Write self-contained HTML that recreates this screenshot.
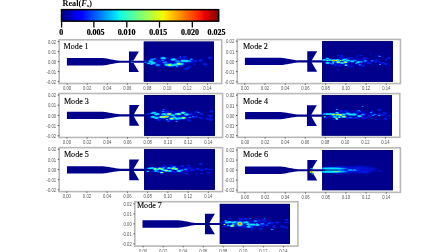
<!DOCTYPE html>
<html><head><meta charset="utf-8"><style>html,body{margin:0;padding:0;background:#fff;overflow:hidden}svg{display:block}</style></head>
<body>
<svg width="448" height="252" viewBox="0 0 448 252">
<defs><linearGradient id="jet" x1="0" x2="1" y1="0" y2="0"><stop offset="0" stop-color="rgb(0, 0, 128)"/><stop offset="0.11" stop-color="rgb(0, 0, 255)"/><stop offset="0.125" stop-color="rgb(0, 0, 255)"/><stop offset="0.34" stop-color="rgb(0, 219, 255)"/><stop offset="0.35" stop-color="rgb(0, 229, 247)"/><stop offset="0.375" stop-color="rgb(20, 255, 226)"/><stop offset="0.64" stop-color="rgb(238, 255, 8)"/><stop offset="0.65" stop-color="rgb(247, 245, 0)"/><stop offset="0.66" stop-color="rgb(255, 236, 0)"/><stop offset="0.89" stop-color="rgb(255, 19, 0)"/><stop offset="0.91" stop-color="rgb(232, 0, 0)"/><stop offset="1" stop-color="rgb(128, 0, 0)"/></linearGradient><filter id="bl" x="-50%" y="-50%" width="200%" height="200%"><feGaussianBlur stdDeviation="0.6"/></filter><radialGradient id="gh"><stop offset="0" stop-color="rgb(0, 10, 240)" stop-opacity="1"/><stop offset="0.5" stop-color="rgb(0, 10, 240)" stop-opacity="0.85"/><stop offset="1" stop-color="rgb(0, 10, 240)" stop-opacity="0"/></radialGradient><radialGradient id="gb"><stop offset="0" stop-color="rgb(0, 25, 235)" stop-opacity="1"/><stop offset="0.5" stop-color="rgb(0, 25, 235)" stop-opacity="0.85"/><stop offset="1" stop-color="rgb(0, 25, 235)" stop-opacity="0"/></radialGradient><radialGradient id="glb"><stop offset="0" stop-color="rgb(0, 150, 255)" stop-opacity="1"/><stop offset="0.5" stop-color="rgb(0, 150, 255)" stop-opacity="0.85"/><stop offset="1" stop-color="rgb(0, 150, 255)" stop-opacity="0"/></radialGradient><radialGradient id="gc"><stop offset="0" stop-color="rgb(0, 235, 255)" stop-opacity="1"/><stop offset="0.5" stop-color="rgb(0, 235, 255)" stop-opacity="0.85"/><stop offset="1" stop-color="rgb(0, 235, 255)" stop-opacity="0"/></radialGradient><radialGradient id="gg"><stop offset="0" stop-color="rgb(120, 255, 130)" stop-opacity="1"/><stop offset="0.5" stop-color="rgb(120, 255, 130)" stop-opacity="0.85"/><stop offset="1" stop-color="rgb(120, 255, 130)" stop-opacity="0"/></radialGradient><radialGradient id="gy"><stop offset="0" stop-color="rgb(230, 255, 10)" stop-opacity="1"/><stop offset="0.5" stop-color="rgb(230, 255, 10)" stop-opacity="0.85"/><stop offset="1" stop-color="rgb(230, 255, 10)" stop-opacity="0"/></radialGradient><radialGradient id="go"><stop offset="0" stop-color="rgb(255, 150, 0)" stop-opacity="1"/><stop offset="0.5" stop-color="rgb(255, 150, 0)" stop-opacity="0.85"/><stop offset="1" stop-color="rgb(255, 150, 0)" stop-opacity="0"/></radialGradient><radialGradient id="gr"><stop offset="0" stop-color="rgb(230, 20, 0)" stop-opacity="1"/><stop offset="0.5" stop-color="rgb(230, 20, 0)" stop-opacity="0.85"/><stop offset="1" stop-color="rgb(230, 20, 0)" stop-opacity="0"/></radialGradient></defs>
<rect width="448" height="252" fill="#fff"/>
<text x="62.5" y="5.85" font-family="'Liberation Serif', 'Times New Roman', serif" font-weight="bold" font-size="8.2" fill="#000">Real(<tspan font-style="italic">F</tspan><tspan font-size="5" dy="1.5">x</tspan><tspan dy="-1.5">)</tspan></text>
<rect x="61.5" y="9.65" width="157.2" height="11.499999999999998" fill="url(#jet)" stroke="#000" stroke-width="1.5"/>
<line x1="61.6" y1="21.15" x2="61.6" y2="27.6" stroke="#000" stroke-width="1.3"/>
<line x1="93.9" y1="21.15" x2="93.9" y2="27.6" stroke="#000" stroke-width="1.3"/>
<line x1="126.8" y1="21.15" x2="126.8" y2="27.6" stroke="#000" stroke-width="1.3"/>
<line x1="159.5" y1="21.15" x2="159.5" y2="27.6" stroke="#000" stroke-width="1.3"/>
<line x1="192.3" y1="21.15" x2="192.3" y2="27.6" stroke="#000" stroke-width="1.3"/>
<text transform="translate(61.3 34.5) scale(1.1 1)" text-anchor="middle" font-family="'Liberation Serif', 'Times New Roman', serif" font-weight="bold" font-size="7.25" fill="#000" stroke="#000" stroke-width="0.2">0</text>
<text transform="translate(95.6 34.5) scale(1.1 1)" text-anchor="middle" font-family="'Liberation Serif', 'Times New Roman', serif" font-weight="bold" font-size="7.25" fill="#000" stroke="#000" stroke-width="0.2">0.005</text>
<text transform="translate(126.6 34.5) scale(1.1 1)" text-anchor="middle" font-family="'Liberation Serif', 'Times New Roman', serif" font-weight="bold" font-size="7.25" fill="#000" stroke="#000" stroke-width="0.2">0.010</text>
<text transform="translate(158.2 34.5) scale(1.1 1)" text-anchor="middle" font-family="'Liberation Serif', 'Times New Roman', serif" font-weight="bold" font-size="7.25" fill="#000" stroke="#000" stroke-width="0.2">0.015</text>
<text transform="translate(190.0 34.5) scale(1.1 1)" text-anchor="middle" font-family="'Liberation Serif', 'Times New Roman', serif" font-weight="bold" font-size="7.25" fill="#000" stroke="#000" stroke-width="0.2">0.020</text>
<text transform="translate(216.5 34.5) scale(1.1 1)" text-anchor="middle" font-family="'Liberation Serif', 'Times New Roman', serif" font-weight="bold" font-size="7.25" fill="#000" stroke="#000" stroke-width="0.2">0.025</text>
<rect x="59.2" y="39.8" width="162.50" height="43.70" fill="#fff" stroke="#b8b8b8" stroke-width="1.6"/>
<text transform="translate(56.20 43.80) scale(0.92 1)" text-anchor="end" font-family="'Liberation Sans', Arial, sans-serif" font-size="4.6" fill="#555">0.02</text>
<line x1="57.80" y1="41.60" x2="59.20" y2="41.60" stroke="#444" stroke-width="0.9"/>
<text transform="translate(56.20 53.81) scale(0.92 1)" text-anchor="end" font-family="'Liberation Sans', Arial, sans-serif" font-size="4.6" fill="#555">0.01</text>
<line x1="57.80" y1="51.61" x2="59.20" y2="51.61" stroke="#444" stroke-width="0.9"/>
<text transform="translate(56.20 63.83) scale(0.92 1)" text-anchor="end" font-family="'Liberation Sans', Arial, sans-serif" font-size="4.6" fill="#555">0.00</text>
<line x1="57.80" y1="61.62" x2="59.20" y2="61.62" stroke="#444" stroke-width="0.9"/>
<text transform="translate(56.20 73.84) scale(0.92 1)" text-anchor="end" font-family="'Liberation Sans', Arial, sans-serif" font-size="4.6" fill="#555">-0.01</text>
<line x1="57.80" y1="71.64" x2="59.20" y2="71.64" stroke="#444" stroke-width="0.9"/>
<text transform="translate(56.20 83.85) scale(0.92 1)" text-anchor="end" font-family="'Liberation Sans', Arial, sans-serif" font-size="4.6" fill="#555">-0.02</text>
<line x1="57.80" y1="81.65" x2="59.20" y2="81.65" stroke="#444" stroke-width="0.9"/>
<text transform="translate(67.10 90.00) scale(0.92 1)" text-anchor="middle" font-family="'Liberation Sans', Arial, sans-serif" font-size="4.6" fill="#555">0.00</text>
<line x1="67.10" y1="83.50" x2="67.10" y2="84.70" stroke="#444" stroke-width="0.9"/>
<text transform="translate(87.15 90.00) scale(0.92 1)" text-anchor="middle" font-family="'Liberation Sans', Arial, sans-serif" font-size="4.6" fill="#555">0.02</text>
<line x1="87.15" y1="83.50" x2="87.15" y2="84.70" stroke="#444" stroke-width="0.9"/>
<text transform="translate(107.20 90.00) scale(0.92 1)" text-anchor="middle" font-family="'Liberation Sans', Arial, sans-serif" font-size="4.6" fill="#555">0.04</text>
<line x1="107.20" y1="83.50" x2="107.20" y2="84.70" stroke="#444" stroke-width="0.9"/>
<text transform="translate(127.25 90.00) scale(0.92 1)" text-anchor="middle" font-family="'Liberation Sans', Arial, sans-serif" font-size="4.6" fill="#555">0.06</text>
<line x1="127.25" y1="83.50" x2="127.25" y2="84.70" stroke="#444" stroke-width="0.9"/>
<text transform="translate(147.30 90.00) scale(0.92 1)" text-anchor="middle" font-family="'Liberation Sans', Arial, sans-serif" font-size="4.6" fill="#555">0.08</text>
<line x1="147.30" y1="83.50" x2="147.30" y2="84.70" stroke="#444" stroke-width="0.9"/>
<text transform="translate(167.35 90.00) scale(0.92 1)" text-anchor="middle" font-family="'Liberation Sans', Arial, sans-serif" font-size="4.6" fill="#555">0.10</text>
<line x1="167.35" y1="83.50" x2="167.35" y2="84.70" stroke="#444" stroke-width="0.9"/>
<text transform="translate(187.40 90.00) scale(0.92 1)" text-anchor="middle" font-family="'Liberation Sans', Arial, sans-serif" font-size="4.6" fill="#555">0.12</text>
<line x1="187.40" y1="83.50" x2="187.40" y2="84.70" stroke="#444" stroke-width="0.9"/>
<text transform="translate(207.45 90.00) scale(0.92 1)" text-anchor="middle" font-family="'Liberation Sans', Arial, sans-serif" font-size="4.6" fill="#555">0.14</text>
<line x1="207.45" y1="83.50" x2="207.45" y2="84.70" stroke="#444" stroke-width="0.9"/>
<rect x="143.8" y="41.6" width="70.20" height="40.05" fill="#00008c"/>
<rect x="144.20" y="42.00" width="69.40" height="39.25" fill="none" stroke="#000070" stroke-width="0.8"/>
<ellipse cx="172" cy="62.5" rx="28" ry="6.0" fill="url(#gh)" opacity="0.45"/>
<clipPath id="cp1"><rect x="143.8" y="41.6" width="70.20" height="40.05"/></clipPath>
<g clip-path="url(#cp1)"><ellipse cx="152.2" cy="59.5" rx="3.86" ry="2.02" fill="url(#gb)"/><ellipse cx="153" cy="62.9" rx="4.42" ry="2.30" fill="url(#gb)"/><ellipse cx="148.4" cy="62.5" rx="3.31" ry="1.75" fill="url(#gb)"/><ellipse cx="157.7" cy="65" rx="3.86" ry="2.02" fill="url(#gb)"/><ellipse cx="163.2" cy="58.2" rx="4.42" ry="2.30" fill="url(#gb)"/><ellipse cx="164.9" cy="62.5" rx="3.86" ry="2.02" fill="url(#gb)"/><ellipse cx="169.6" cy="65" rx="4.60" ry="2.48" fill="url(#gb)"/><ellipse cx="173.4" cy="59.5" rx="4.42" ry="2.30" fill="url(#gb)"/><ellipse cx="177.6" cy="61.6" rx="3.86" ry="2.02" fill="url(#gb)"/><ellipse cx="159" cy="61.2" rx="3.31" ry="1.75" fill="url(#gb)"/><ellipse cx="167" cy="64.8" rx="4.42" ry="2.30" fill="url(#gb)"/><ellipse cx="172" cy="65.2" rx="4.42" ry="2.30" fill="url(#gb)"/><ellipse cx="175.5" cy="64.8" rx="4.42" ry="2.30" fill="url(#gb)"/><ellipse cx="178.8" cy="63.8" rx="4.60" ry="2.48" fill="url(#gb)"/><ellipse cx="181" cy="64" rx="4.42" ry="2.30" fill="url(#gb)"/><ellipse cx="183" cy="60.9" rx="4.42" ry="2.30" fill="url(#gb)"/><ellipse cx="186.5" cy="61" rx="4.42" ry="2.30" fill="url(#gb)"/><ellipse cx="189.5" cy="61.3" rx="3.86" ry="2.02" fill="url(#gb)"/><ellipse cx="195" cy="61.2" rx="3.31" ry="1.75" fill="url(#gb)"/><ellipse cx="200.5" cy="60.4" rx="3.31" ry="1.75" fill="url(#gb)"/><ellipse cx="205" cy="64.2" rx="3.31" ry="1.75" fill="url(#gb)"/><ellipse cx="210.2" cy="57.8" rx="3.31" ry="1.75" fill="url(#gb)"/><ellipse cx="184.4" cy="57.4" rx="3.31" ry="1.75" fill="url(#gb)"/><ellipse cx="188.2" cy="67.6" rx="3.31" ry="1.75" fill="url(#gb)"/><ellipse cx="186.5" cy="68.8" rx="3.31" ry="1.75" fill="url(#gb)"/><ellipse cx="133.6" cy="60.3" rx="3.86" ry="2.02" fill="url(#gb)"/><ellipse cx="133.6" cy="63.3" rx="3.86" ry="2.02" fill="url(#gb)"/><ellipse cx="145.5" cy="61.8" rx="3.86" ry="2.02" fill="url(#gb)"/><ellipse cx="150.4" cy="61.6" rx="4.42" ry="2.30" fill="url(#gb)"/><ellipse cx="152" cy="63.2" rx="3.86" ry="2.02" fill="url(#gb)"/><ellipse cx="179.7" cy="58.3" rx="2.21" ry="1.17" fill="url(#gb)"/><ellipse cx="194.6" cy="64.1" rx="1.65" ry="0.87" fill="url(#gb)"/><ellipse cx="176.7" cy="61.1" rx="2.77" ry="1.45" fill="url(#gb)"/><ellipse cx="148.6" cy="63.5" rx="2.46" ry="1.28" fill="url(#gb)"/><ellipse cx="162.7" cy="60.6" rx="1.90" ry="0.99" fill="url(#gb)"/><ellipse cx="191.3" cy="59.2" rx="2.74" ry="1.44" fill="url(#gb)"/><ellipse cx="182.2" cy="62.6" rx="2.33" ry="1.23" fill="url(#gb)"/><ellipse cx="163.9" cy="62.4" rx="1.78" ry="0.94" fill="url(#gb)"/><ellipse cx="178.4" cy="61.1" rx="2.61" ry="1.37" fill="url(#gb)"/><ellipse cx="155.2" cy="62.7" rx="1.54" ry="0.81" fill="url(#gb)"/><ellipse cx="175.3" cy="64.4" rx="2.25" ry="1.19" fill="url(#gb)"/><ellipse cx="154.8" cy="58.9" rx="2.37" ry="1.24" fill="url(#gb)"/><ellipse cx="152.7" cy="62.5" rx="2.33" ry="1.23" fill="url(#gb)"/><ellipse cx="171.6" cy="60.7" rx="1.72" ry="0.91" fill="url(#gb)"/><ellipse cx="162.2" cy="60.7" rx="1.65" ry="0.87" fill="url(#gb)"/><ellipse cx="184.3" cy="60.9" rx="2.55" ry="1.33" fill="url(#gb)"/><ellipse cx="174.3" cy="60.1" rx="2.13" ry="1.12" fill="url(#gb)"/><ellipse cx="165.6" cy="65.5" rx="1.90" ry="1.00" fill="url(#gb)"/><ellipse cx="180.4" cy="57.0" rx="2.01" ry="1.05" fill="url(#gb)"/><ellipse cx="177.0" cy="66.8" rx="2.29" ry="1.20" fill="url(#gb)"/><ellipse cx="181.5" cy="65.9" rx="1.86" ry="0.98" fill="url(#gb)"/><ellipse cx="170.8" cy="63.9" rx="2.31" ry="1.21" fill="url(#gb)"/><ellipse cx="174.9" cy="64.2" rx="2.49" ry="1.30" fill="url(#gb)"/><ellipse cx="148.1" cy="63.9" rx="1.56" ry="0.82" fill="url(#gb)"/><ellipse cx="151.5" cy="64.1" rx="2.54" ry="1.33" fill="url(#gb)"/><ellipse cx="152.2" cy="59.5" rx="2.76" ry="1.38" fill="url(#glb)"/><ellipse cx="153" cy="62.9" rx="3.68" ry="1.84" fill="url(#glb)"/><ellipse cx="157.7" cy="65" rx="2.76" ry="1.38" fill="url(#glb)"/><ellipse cx="163.2" cy="58.2" rx="3.68" ry="1.84" fill="url(#glb)"/><ellipse cx="164.9" cy="62.5" rx="2.76" ry="1.38" fill="url(#glb)"/><ellipse cx="169.6" cy="65" rx="3.86" ry="2.02" fill="url(#glb)"/><ellipse cx="173.4" cy="59.5" rx="3.68" ry="1.84" fill="url(#glb)"/><ellipse cx="177.6" cy="61.6" rx="2.76" ry="1.38" fill="url(#glb)"/><ellipse cx="167" cy="64.8" rx="3.68" ry="1.84" fill="url(#glb)"/><ellipse cx="172" cy="65.2" rx="3.68" ry="1.84" fill="url(#glb)"/><ellipse cx="175.5" cy="64.8" rx="3.68" ry="1.84" fill="url(#glb)"/><ellipse cx="178.8" cy="63.8" rx="3.86" ry="2.02" fill="url(#glb)"/><ellipse cx="181" cy="64" rx="3.68" ry="1.84" fill="url(#glb)"/><ellipse cx="183" cy="60.9" rx="3.68" ry="1.84" fill="url(#glb)"/><ellipse cx="186.5" cy="61" rx="3.68" ry="1.84" fill="url(#glb)"/><ellipse cx="189.5" cy="61.3" rx="2.76" ry="1.38" fill="url(#glb)"/><ellipse cx="133.6" cy="60.3" rx="2.76" ry="1.38" fill="url(#glb)"/><ellipse cx="133.6" cy="63.3" rx="2.76" ry="1.38" fill="url(#glb)"/><ellipse cx="145.5" cy="61.8" rx="2.76" ry="1.38" fill="url(#glb)"/><ellipse cx="150.4" cy="61.6" rx="3.68" ry="1.84" fill="url(#glb)"/><ellipse cx="152" cy="63.2" rx="2.76" ry="1.38" fill="url(#glb)"/><ellipse cx="176.7" cy="61.1" rx="1.98" ry="0.99" fill="url(#glb)"/><ellipse cx="148.6" cy="63.5" rx="2.05" ry="1.02" fill="url(#glb)"/><ellipse cx="162.7" cy="60.6" rx="1.36" ry="0.68" fill="url(#glb)"/><ellipse cx="191.3" cy="59.2" rx="1.96" ry="0.98" fill="url(#glb)"/><ellipse cx="178.4" cy="61.1" rx="1.87" ry="0.93" fill="url(#glb)"/><ellipse cx="154.8" cy="58.9" rx="1.69" ry="0.85" fill="url(#glb)"/><ellipse cx="184.3" cy="60.9" rx="1.82" ry="0.91" fill="url(#glb)"/><ellipse cx="180.4" cy="57.0" rx="1.43" ry="0.72" fill="url(#glb)"/><ellipse cx="177.0" cy="66.8" rx="1.63" ry="0.82" fill="url(#glb)"/><ellipse cx="170.8" cy="63.9" rx="1.65" ry="0.82" fill="url(#glb)"/><ellipse cx="174.9" cy="64.2" rx="2.08" ry="1.04" fill="url(#glb)"/><ellipse cx="151.5" cy="64.1" rx="2.12" ry="1.06" fill="url(#glb)"/><ellipse cx="153" cy="62.9" rx="2.76" ry="1.29" fill="url(#gc)"/><ellipse cx="163.2" cy="58.2" rx="2.76" ry="1.29" fill="url(#gc)"/><ellipse cx="169.6" cy="65" rx="3.22" ry="1.66" fill="url(#gc)"/><ellipse cx="173.4" cy="59.5" rx="2.76" ry="1.29" fill="url(#gc)"/><ellipse cx="167" cy="64.8" rx="2.76" ry="1.29" fill="url(#gc)"/><ellipse cx="172" cy="65.2" rx="2.76" ry="1.29" fill="url(#gc)"/><ellipse cx="175.5" cy="64.8" rx="2.76" ry="1.29" fill="url(#gc)"/><ellipse cx="178.8" cy="63.8" rx="3.22" ry="1.66" fill="url(#gc)"/><ellipse cx="181" cy="64" rx="2.76" ry="1.29" fill="url(#gc)"/><ellipse cx="183" cy="60.9" rx="2.76" ry="1.29" fill="url(#gc)"/><ellipse cx="186.5" cy="61" rx="2.76" ry="1.29" fill="url(#gc)"/><ellipse cx="150.4" cy="61.6" rx="2.76" ry="1.29" fill="url(#gc)"/><ellipse cx="148.6" cy="63.5" rx="1.53" ry="0.72" fill="url(#gc)"/><ellipse cx="174.9" cy="64.2" rx="1.56" ry="0.73" fill="url(#gc)"/><ellipse cx="151.5" cy="64.1" rx="1.59" ry="0.74" fill="url(#gc)"/><ellipse cx="169.6" cy="65" rx="2.58" ry="1.29" fill="url(#gg)"/><ellipse cx="178.8" cy="63.8" rx="2.58" ry="1.29" fill="url(#gg)"/><ellipse cx="169.6" cy="65" rx="1.84" ry="0.92" fill="url(#gy)"/><ellipse cx="178.8" cy="63.8" rx="1.84" ry="0.92" fill="url(#gy)"/></g>
<polygon points="66.90,58.10 102.30,58.10 104.49,58.31 106.68,58.62 108.86,58.98 111.05,59.38 113.24,59.77 115.43,60.13 117.61,60.44 119.80,60.65 144.10,60.65 144.10,61.15 148.80,61.15 148.80,62.35 144.10,62.35 144.10,62.85 119.80,62.85 117.61,63.06 115.43,63.37 113.24,63.73 111.05,64.12 108.86,64.52 106.68,64.88 104.49,65.19 102.30,65.40 66.90,65.40" fill="#00008a"/>
<polygon points="128.95,51.45 138.90,51.45 132.80,61.75 138.90,72.05 128.95,72.05" fill="#00008a"/>
<ellipse cx="132.2" cy="60.9" rx="2.0" ry="0.75" fill="url(#glb)"/><ellipse cx="132.2" cy="62.7" rx="2.0" ry="0.75" fill="url(#glb)"/>
<text x="63.6" y="49.1" font-family="'Liberation Serif', 'Times New Roman', serif" font-size="8.1" fill="#000" stroke="#000" stroke-width="0.12">Mode 1</text>
<rect x="237.3" y="39.45" width="163.15" height="44.10" fill="#fff" stroke="#b8b8b8" stroke-width="1.6"/>
<text transform="translate(234.30 43.40) scale(0.92 1)" text-anchor="end" font-family="'Liberation Sans', Arial, sans-serif" font-size="4.6" fill="#555">0.02</text>
<line x1="235.90" y1="41.20" x2="237.30" y2="41.20" stroke="#444" stroke-width="0.9"/>
<text transform="translate(234.30 53.55) scale(0.92 1)" text-anchor="end" font-family="'Liberation Sans', Arial, sans-serif" font-size="4.6" fill="#555">0.01</text>
<line x1="235.90" y1="51.35" x2="237.30" y2="51.35" stroke="#444" stroke-width="0.9"/>
<text transform="translate(234.30 63.70) scale(0.92 1)" text-anchor="end" font-family="'Liberation Sans', Arial, sans-serif" font-size="4.6" fill="#555">0.00</text>
<line x1="235.90" y1="61.50" x2="237.30" y2="61.50" stroke="#444" stroke-width="0.9"/>
<text transform="translate(234.30 73.85) scale(0.92 1)" text-anchor="end" font-family="'Liberation Sans', Arial, sans-serif" font-size="4.6" fill="#555">-0.01</text>
<line x1="235.90" y1="71.65" x2="237.30" y2="71.65" stroke="#444" stroke-width="0.9"/>
<text transform="translate(234.30 84.00) scale(0.92 1)" text-anchor="end" font-family="'Liberation Sans', Arial, sans-serif" font-size="4.6" fill="#555">-0.02</text>
<line x1="235.90" y1="81.80" x2="237.30" y2="81.80" stroke="#444" stroke-width="0.9"/>
<text transform="translate(244.74 90.05) scale(0.92 1)" text-anchor="middle" font-family="'Liberation Sans', Arial, sans-serif" font-size="4.6" fill="#555">0.00</text>
<line x1="244.74" y1="83.55" x2="244.74" y2="84.75" stroke="#444" stroke-width="0.9"/>
<text transform="translate(264.97 90.05) scale(0.92 1)" text-anchor="middle" font-family="'Liberation Sans', Arial, sans-serif" font-size="4.6" fill="#555">0.02</text>
<line x1="264.97" y1="83.55" x2="264.97" y2="84.75" stroke="#444" stroke-width="0.9"/>
<text transform="translate(285.19 90.05) scale(0.92 1)" text-anchor="middle" font-family="'Liberation Sans', Arial, sans-serif" font-size="4.6" fill="#555">0.04</text>
<line x1="285.19" y1="83.55" x2="285.19" y2="84.75" stroke="#444" stroke-width="0.9"/>
<text transform="translate(305.41 90.05) scale(0.92 1)" text-anchor="middle" font-family="'Liberation Sans', Arial, sans-serif" font-size="4.6" fill="#555">0.06</text>
<line x1="305.41" y1="83.55" x2="305.41" y2="84.75" stroke="#444" stroke-width="0.9"/>
<text transform="translate(325.63 90.05) scale(0.92 1)" text-anchor="middle" font-family="'Liberation Sans', Arial, sans-serif" font-size="4.6" fill="#555">0.08</text>
<line x1="325.63" y1="83.55" x2="325.63" y2="84.75" stroke="#444" stroke-width="0.9"/>
<text transform="translate(345.85 90.05) scale(0.92 1)" text-anchor="middle" font-family="'Liberation Sans', Arial, sans-serif" font-size="4.6" fill="#555">0.10</text>
<line x1="345.85" y1="83.55" x2="345.85" y2="84.75" stroke="#444" stroke-width="0.9"/>
<text transform="translate(366.07 90.05) scale(0.92 1)" text-anchor="middle" font-family="'Liberation Sans', Arial, sans-serif" font-size="4.6" fill="#555">0.12</text>
<line x1="366.07" y1="83.55" x2="366.07" y2="84.75" stroke="#444" stroke-width="0.9"/>
<text transform="translate(386.29 90.05) scale(0.92 1)" text-anchor="middle" font-family="'Liberation Sans', Arial, sans-serif" font-size="4.6" fill="#555">0.14</text>
<line x1="386.29" y1="83.55" x2="386.29" y2="84.75" stroke="#444" stroke-width="0.9"/>
<rect x="322.1" y="41.2" width="70.80" height="40.60" fill="#00008c"/>
<rect x="322.50" y="41.60" width="70.00" height="39.80" fill="none" stroke="#000070" stroke-width="0.8"/>
<ellipse cx="350" cy="61.5" rx="28" ry="5.5" fill="url(#gh)" opacity="0.45"/>
<clipPath id="cp2"><rect x="322.1" y="41.2" width="70.80" height="40.60"/></clipPath>
<g clip-path="url(#cp2)"><ellipse cx="324.2" cy="60.1" rx="3.60" ry="1.88" fill="url(#gb)"/><ellipse cx="326.8" cy="60.1" rx="3.15" ry="1.65" fill="url(#gb)"/><ellipse cx="329.8" cy="60.1" rx="3.60" ry="1.88" fill="url(#gb)"/><ellipse cx="333.6" cy="60.5" rx="3.90" ry="2.10" fill="url(#gb)"/><ellipse cx="327.6" cy="63" rx="3.60" ry="1.88" fill="url(#gb)"/><ellipse cx="331.9" cy="63.5" rx="3.15" ry="1.65" fill="url(#gb)"/><ellipse cx="337.8" cy="60.1" rx="3.60" ry="1.88" fill="url(#gb)"/><ellipse cx="338.2" cy="62.2" rx="3.75" ry="2.03" fill="url(#gb)"/><ellipse cx="341.2" cy="57.9" rx="2.70" ry="1.42" fill="url(#gb)"/><ellipse cx="342" cy="63" rx="3.60" ry="1.88" fill="url(#gb)"/><ellipse cx="345.4" cy="62.2" rx="3.75" ry="2.03" fill="url(#gb)"/><ellipse cx="344.6" cy="59.6" rx="3.60" ry="1.88" fill="url(#gb)"/><ellipse cx="348" cy="60.5" rx="3.60" ry="1.88" fill="url(#gb)"/><ellipse cx="350" cy="57.9" rx="2.70" ry="1.42" fill="url(#gb)"/><ellipse cx="352.2" cy="61.3" rx="3.60" ry="1.88" fill="url(#gb)"/><ellipse cx="354.8" cy="60.5" rx="3.15" ry="1.65" fill="url(#gb)"/><ellipse cx="335.3" cy="64.7" rx="2.70" ry="1.42" fill="url(#gb)"/><ellipse cx="339.5" cy="65.6" rx="2.70" ry="1.42" fill="url(#gb)"/><ellipse cx="347.1" cy="65.6" rx="2.70" ry="1.42" fill="url(#gb)"/><ellipse cx="341.2" cy="55.8" rx="2.70" ry="1.42" fill="url(#gb)"/><ellipse cx="358.1" cy="62.2" rx="3.60" ry="1.88" fill="url(#gb)"/><ellipse cx="361.1" cy="61.8" rx="3.15" ry="1.65" fill="url(#gb)"/><ellipse cx="365.3" cy="60.9" rx="3.15" ry="1.65" fill="url(#gb)"/><ellipse cx="364.5" cy="57.9" rx="2.70" ry="1.42" fill="url(#gb)"/><ellipse cx="372.5" cy="61.3" rx="2.70" ry="1.42" fill="url(#gb)"/><ellipse cx="376" cy="60.9" rx="2.70" ry="1.42" fill="url(#gb)"/><ellipse cx="378.9" cy="56.2" rx="2.70" ry="1.42" fill="url(#gb)"/><ellipse cx="389.1" cy="57.9" rx="2.70" ry="1.42" fill="url(#gb)"/><ellipse cx="385.7" cy="63.9" rx="2.70" ry="1.42" fill="url(#gb)"/><ellipse cx="362.8" cy="66" rx="2.70" ry="1.42" fill="url(#gb)"/><ellipse cx="368.7" cy="63" rx="2.70" ry="1.42" fill="url(#gb)"/><ellipse cx="381.4" cy="63" rx="2.70" ry="1.42" fill="url(#gb)"/><ellipse cx="358.5" cy="64.1" rx="1.81" ry="0.96" fill="url(#gb)"/><ellipse cx="370.5" cy="54.2" rx="1.34" ry="0.71" fill="url(#gb)"/><ellipse cx="325.8" cy="59.4" rx="1.49" ry="0.79" fill="url(#gb)"/><ellipse cx="379.9" cy="64.4" rx="1.81" ry="0.95" fill="url(#gb)"/><ellipse cx="389.9" cy="65.8" rx="1.37" ry="0.72" fill="url(#gb)"/><ellipse cx="370.6" cy="63.4" rx="1.95" ry="1.03" fill="url(#gb)"/><ellipse cx="337.9" cy="55.9" rx="1.54" ry="0.81" fill="url(#gb)"/><ellipse cx="386.0" cy="59.9" rx="1.98" ry="1.04" fill="url(#gb)"/><ellipse cx="333.3" cy="62.9" rx="2.12" ry="1.15" fill="url(#gb)"/><ellipse cx="327.4" cy="58.4" rx="2.60" ry="1.35" fill="url(#gb)"/><ellipse cx="348.7" cy="62.3" rx="1.95" ry="1.03" fill="url(#gb)"/><ellipse cx="358.8" cy="55.0" rx="1.45" ry="0.77" fill="url(#gb)"/><ellipse cx="375.9" cy="62.7" rx="1.66" ry="0.88" fill="url(#gb)"/><ellipse cx="332.5" cy="64.1" rx="1.74" ry="0.91" fill="url(#gb)"/><ellipse cx="345.9" cy="65.1" rx="2.50" ry="1.35" fill="url(#gb)"/><ellipse cx="347.0" cy="58.9" rx="2.00" ry="1.05" fill="url(#gb)"/><ellipse cx="372.1" cy="60.9" rx="2.23" ry="1.17" fill="url(#gb)"/><ellipse cx="325.4" cy="61.9" rx="1.81" ry="0.95" fill="url(#gb)"/><ellipse cx="372.3" cy="65.1" rx="1.40" ry="0.74" fill="url(#gb)"/><ellipse cx="340.6" cy="60.3" rx="1.96" ry="1.06" fill="url(#gb)"/><ellipse cx="379.6" cy="56.3" rx="2.15" ry="1.13" fill="url(#gb)"/><ellipse cx="327.3" cy="60.6" rx="2.52" ry="1.36" fill="url(#gb)"/><ellipse cx="379.4" cy="59.7" rx="1.32" ry="0.70" fill="url(#gb)"/><ellipse cx="366.0" cy="58.7" rx="1.64" ry="0.87" fill="url(#gb)"/><ellipse cx="341.5" cy="62.6" rx="1.80" ry="0.94" fill="url(#gb)"/><ellipse cx="356.1" cy="63.6" rx="1.90" ry="1.00" fill="url(#gb)"/><ellipse cx="353.4" cy="66.7" rx="1.49" ry="0.79" fill="url(#gb)"/><ellipse cx="336.5" cy="60.4" rx="2.49" ry="1.35" fill="url(#gb)"/><ellipse cx="361.5" cy="55.4" rx="1.68" ry="0.88" fill="url(#gb)"/><ellipse cx="385.4" cy="64.0" rx="1.70" ry="0.90" fill="url(#gb)"/><ellipse cx="348.3" cy="66.9" rx="1.69" ry="0.89" fill="url(#gb)"/><ellipse cx="358.2" cy="61.2" rx="1.40" ry="0.74" fill="url(#gb)"/><ellipse cx="362.0" cy="59.8" rx="1.58" ry="0.83" fill="url(#gb)"/><ellipse cx="357.3" cy="56.1" rx="1.60" ry="0.85" fill="url(#gb)"/><ellipse cx="324.8" cy="60.9" rx="2.40" ry="1.25" fill="url(#gb)"/><ellipse cx="337.9" cy="69.3" rx="1.76" ry="0.93" fill="url(#gb)"/><ellipse cx="325.8" cy="58.0" rx="1.55" ry="0.81" fill="url(#gb)"/><ellipse cx="384.0" cy="62.4" rx="1.28" ry="0.67" fill="url(#gb)"/><ellipse cx="359.4" cy="61.4" rx="2.18" ry="1.14" fill="url(#gb)"/><ellipse cx="376.4" cy="59.3" rx="1.30" ry="0.69" fill="url(#gb)"/><ellipse cx="359.6" cy="62.8" rx="1.51" ry="0.80" fill="url(#gb)"/><ellipse cx="359.9" cy="64.9" rx="2.29" ry="1.20" fill="url(#gb)"/><ellipse cx="350.8" cy="66.8" rx="1.81" ry="0.95" fill="url(#gb)"/><ellipse cx="378.8" cy="61.5" rx="1.79" ry="0.94" fill="url(#gb)"/><ellipse cx="342.8" cy="60.1" rx="2.24" ry="1.21" fill="url(#gb)"/><ellipse cx="324.2" cy="60.1" rx="3.00" ry="1.50" fill="url(#glb)"/><ellipse cx="326.8" cy="60.1" rx="2.25" ry="1.12" fill="url(#glb)"/><ellipse cx="329.8" cy="60.1" rx="3.00" ry="1.50" fill="url(#glb)"/><ellipse cx="333.6" cy="60.5" rx="3.30" ry="1.72" fill="url(#glb)"/><ellipse cx="327.6" cy="63" rx="3.00" ry="1.50" fill="url(#glb)"/><ellipse cx="331.9" cy="63.5" rx="2.25" ry="1.12" fill="url(#glb)"/><ellipse cx="337.8" cy="60.1" rx="3.00" ry="1.50" fill="url(#glb)"/><ellipse cx="338.2" cy="62.2" rx="3.15" ry="1.65" fill="url(#glb)"/><ellipse cx="342" cy="63" rx="3.00" ry="1.50" fill="url(#glb)"/><ellipse cx="345.4" cy="62.2" rx="3.15" ry="1.65" fill="url(#glb)"/><ellipse cx="344.6" cy="59.6" rx="3.00" ry="1.50" fill="url(#glb)"/><ellipse cx="348" cy="60.5" rx="3.00" ry="1.50" fill="url(#glb)"/><ellipse cx="352.2" cy="61.3" rx="3.00" ry="1.50" fill="url(#glb)"/><ellipse cx="354.8" cy="60.5" rx="2.25" ry="1.12" fill="url(#glb)"/><ellipse cx="358.1" cy="62.2" rx="3.00" ry="1.50" fill="url(#glb)"/><ellipse cx="361.1" cy="61.8" rx="2.25" ry="1.12" fill="url(#glb)"/><ellipse cx="365.3" cy="60.9" rx="2.25" ry="1.12" fill="url(#glb)"/><ellipse cx="379.9" cy="64.4" rx="1.29" ry="0.65" fill="url(#glb)"/><ellipse cx="337.9" cy="55.9" rx="1.10" ry="0.55" fill="url(#glb)"/><ellipse cx="333.3" cy="62.9" rx="1.78" ry="0.93" fill="url(#glb)"/><ellipse cx="327.4" cy="58.4" rx="2.17" ry="1.08" fill="url(#glb)"/><ellipse cx="332.5" cy="64.1" rx="1.24" ry="0.62" fill="url(#glb)"/><ellipse cx="345.9" cy="65.1" rx="2.10" ry="1.10" fill="url(#glb)"/><ellipse cx="347.0" cy="58.9" rx="1.43" ry="0.71" fill="url(#glb)"/><ellipse cx="372.1" cy="60.9" rx="1.60" ry="0.80" fill="url(#glb)"/><ellipse cx="325.4" cy="61.9" rx="1.29" ry="0.65" fill="url(#glb)"/><ellipse cx="340.6" cy="60.3" rx="1.65" ry="0.86" fill="url(#glb)"/><ellipse cx="379.6" cy="56.3" rx="1.54" ry="0.77" fill="url(#glb)"/><ellipse cx="327.3" cy="60.6" rx="2.12" ry="1.11" fill="url(#glb)"/><ellipse cx="341.5" cy="62.6" rx="1.29" ry="0.64" fill="url(#glb)"/><ellipse cx="356.1" cy="63.6" rx="1.36" ry="0.68" fill="url(#glb)"/><ellipse cx="336.5" cy="60.4" rx="2.10" ry="1.10" fill="url(#glb)"/><ellipse cx="324.8" cy="60.9" rx="2.00" ry="1.00" fill="url(#glb)"/><ellipse cx="325.8" cy="58.0" rx="1.11" ry="0.55" fill="url(#glb)"/><ellipse cx="359.4" cy="61.4" rx="1.56" ry="0.78" fill="url(#glb)"/><ellipse cx="359.9" cy="64.9" rx="1.64" ry="0.82" fill="url(#glb)"/><ellipse cx="342.8" cy="60.1" rx="1.89" ry="0.99" fill="url(#glb)"/><ellipse cx="324.2" cy="60.1" rx="2.25" ry="1.05" fill="url(#gc)"/><ellipse cx="329.8" cy="60.1" rx="2.25" ry="1.05" fill="url(#gc)"/><ellipse cx="333.6" cy="60.5" rx="2.78" ry="1.42" fill="url(#gc)"/><ellipse cx="327.6" cy="63" rx="2.25" ry="1.05" fill="url(#gc)"/><ellipse cx="337.8" cy="60.1" rx="2.25" ry="1.05" fill="url(#gc)"/><ellipse cx="338.2" cy="62.2" rx="2.62" ry="1.35" fill="url(#gc)"/><ellipse cx="342" cy="63" rx="2.25" ry="1.05" fill="url(#gc)"/><ellipse cx="345.4" cy="62.2" rx="2.62" ry="1.35" fill="url(#gc)"/><ellipse cx="344.6" cy="59.6" rx="2.25" ry="1.05" fill="url(#gc)"/><ellipse cx="348" cy="60.5" rx="2.25" ry="1.05" fill="url(#gc)"/><ellipse cx="352.2" cy="61.3" rx="2.25" ry="1.05" fill="url(#gc)"/><ellipse cx="358.1" cy="62.2" rx="2.25" ry="1.05" fill="url(#gc)"/><ellipse cx="333.3" cy="62.9" rx="1.49" ry="0.76" fill="url(#gc)"/><ellipse cx="327.4" cy="58.4" rx="1.63" ry="0.76" fill="url(#gc)"/><ellipse cx="345.9" cy="65.1" rx="1.75" ry="0.90" fill="url(#gc)"/><ellipse cx="340.6" cy="60.3" rx="1.37" ry="0.71" fill="url(#gc)"/><ellipse cx="327.3" cy="60.6" rx="1.76" ry="0.91" fill="url(#gc)"/><ellipse cx="336.5" cy="60.4" rx="1.75" ry="0.90" fill="url(#gc)"/><ellipse cx="324.8" cy="60.9" rx="1.50" ry="0.70" fill="url(#gc)"/><ellipse cx="342.8" cy="60.1" rx="1.57" ry="0.81" fill="url(#gc)"/><ellipse cx="338.2" cy="62.2" rx="2.10" ry="1.05" fill="url(#gg)"/><ellipse cx="345.4" cy="62.2" rx="2.10" ry="1.05" fill="url(#gg)"/><ellipse cx="333.3" cy="62.9" rx="1.19" ry="0.59" fill="url(#gg)"/><ellipse cx="345.9" cy="65.1" rx="1.40" ry="0.70" fill="url(#gg)"/><ellipse cx="340.6" cy="60.3" rx="1.10" ry="0.55" fill="url(#gg)"/><ellipse cx="327.3" cy="60.6" rx="1.41" ry="0.71" fill="url(#gg)"/><ellipse cx="336.5" cy="60.4" rx="1.40" ry="0.70" fill="url(#gg)"/><ellipse cx="342.8" cy="60.1" rx="1.26" ry="0.63" fill="url(#gg)"/><ellipse cx="333.6" cy="60.5" rx="2.10" ry="1.05" fill="url(#gy)"/><ellipse cx="338.2" cy="62.2" rx="1.50" ry="0.75" fill="url(#gy)"/><ellipse cx="345.4" cy="62.2" rx="1.50" ry="0.75" fill="url(#gy)"/><ellipse cx="333.3" cy="62.9" rx="0.85" ry="0.42" fill="url(#gy)"/><ellipse cx="345.9" cy="65.1" rx="1.00" ry="0.50" fill="url(#gy)"/><ellipse cx="340.6" cy="60.3" rx="0.78" ry="0.39" fill="url(#gy)"/><ellipse cx="327.3" cy="60.6" rx="1.01" ry="0.50" fill="url(#gy)"/><ellipse cx="336.5" cy="60.4" rx="1.00" ry="0.50" fill="url(#gy)"/><ellipse cx="342.8" cy="60.1" rx="0.90" ry="0.45" fill="url(#gy)"/><ellipse cx="333.6" cy="60.5" rx="1.35" ry="0.68" fill="url(#go)"/></g>
<polygon points="244.90,57.80 280.60,57.80 282.79,58.01 284.98,58.32 287.16,58.68 289.35,59.08 291.54,59.47 293.73,59.83 295.91,60.14 298.10,60.35 322.40,60.35 322.40,60.85 326.10,60.85 326.10,62.05 322.40,62.05 322.40,62.55 298.10,62.55 295.91,62.76 293.73,63.07 291.54,63.43 289.35,63.83 287.16,64.22 284.98,64.58 282.79,64.89 280.60,65.10 244.90,65.10" fill="#00008a"/>
<polygon points="307.25,51.15 317.20,51.15 311.10,61.45 317.20,71.75 307.25,71.75" fill="#00008a"/>
<text x="242.9" y="49.1" font-family="'Liberation Serif', 'Times New Roman', serif" font-size="8.1" fill="#000" stroke="#000" stroke-width="0.12">Mode 2</text>
<rect x="59.1" y="93.5" width="163.50" height="43.95" fill="#fff" stroke="#b8b8b8" stroke-width="1.6"/>
<text transform="translate(56.10 97.20) scale(0.92 1)" text-anchor="end" font-family="'Liberation Sans', Arial, sans-serif" font-size="4.6" fill="#555">0.02</text>
<line x1="57.70" y1="95.00" x2="59.10" y2="95.00" stroke="#444" stroke-width="0.9"/>
<text transform="translate(56.10 107.40) scale(0.92 1)" text-anchor="end" font-family="'Liberation Sans', Arial, sans-serif" font-size="4.6" fill="#555">0.01</text>
<line x1="57.70" y1="105.20" x2="59.10" y2="105.20" stroke="#444" stroke-width="0.9"/>
<text transform="translate(56.10 117.60) scale(0.92 1)" text-anchor="end" font-family="'Liberation Sans', Arial, sans-serif" font-size="4.6" fill="#555">0.00</text>
<line x1="57.70" y1="115.40" x2="59.10" y2="115.40" stroke="#444" stroke-width="0.9"/>
<text transform="translate(56.10 127.80) scale(0.92 1)" text-anchor="end" font-family="'Liberation Sans', Arial, sans-serif" font-size="4.6" fill="#555">-0.01</text>
<line x1="57.70" y1="125.60" x2="59.10" y2="125.60" stroke="#444" stroke-width="0.9"/>
<text transform="translate(56.10 138.00) scale(0.92 1)" text-anchor="end" font-family="'Liberation Sans', Arial, sans-serif" font-size="4.6" fill="#555">-0.02</text>
<line x1="57.70" y1="135.80" x2="59.10" y2="135.80" stroke="#444" stroke-width="0.9"/>
<text transform="translate(66.95 143.95) scale(0.92 1)" text-anchor="middle" font-family="'Liberation Sans', Arial, sans-serif" font-size="4.6" fill="#555">0.00</text>
<line x1="66.95" y1="137.45" x2="66.95" y2="138.65" stroke="#444" stroke-width="0.9"/>
<text transform="translate(87.15 143.95) scale(0.92 1)" text-anchor="middle" font-family="'Liberation Sans', Arial, sans-serif" font-size="4.6" fill="#555">0.02</text>
<line x1="87.15" y1="137.45" x2="87.15" y2="138.65" stroke="#444" stroke-width="0.9"/>
<text transform="translate(107.34 143.95) scale(0.92 1)" text-anchor="middle" font-family="'Liberation Sans', Arial, sans-serif" font-size="4.6" fill="#555">0.04</text>
<line x1="107.34" y1="137.45" x2="107.34" y2="138.65" stroke="#444" stroke-width="0.9"/>
<text transform="translate(127.53 143.95) scale(0.92 1)" text-anchor="middle" font-family="'Liberation Sans', Arial, sans-serif" font-size="4.6" fill="#555">0.06</text>
<line x1="127.53" y1="137.45" x2="127.53" y2="138.65" stroke="#444" stroke-width="0.9"/>
<text transform="translate(147.72 143.95) scale(0.92 1)" text-anchor="middle" font-family="'Liberation Sans', Arial, sans-serif" font-size="4.6" fill="#555">0.08</text>
<line x1="147.72" y1="137.45" x2="147.72" y2="138.65" stroke="#444" stroke-width="0.9"/>
<text transform="translate(167.92 143.95) scale(0.92 1)" text-anchor="middle" font-family="'Liberation Sans', Arial, sans-serif" font-size="4.6" fill="#555">0.10</text>
<line x1="167.92" y1="137.45" x2="167.92" y2="138.65" stroke="#444" stroke-width="0.9"/>
<text transform="translate(188.11 143.95) scale(0.92 1)" text-anchor="middle" font-family="'Liberation Sans', Arial, sans-serif" font-size="4.6" fill="#555">0.12</text>
<line x1="188.11" y1="137.45" x2="188.11" y2="138.65" stroke="#444" stroke-width="0.9"/>
<text transform="translate(208.30 143.95) scale(0.92 1)" text-anchor="middle" font-family="'Liberation Sans', Arial, sans-serif" font-size="4.6" fill="#555">0.14</text>
<line x1="208.30" y1="137.45" x2="208.30" y2="138.65" stroke="#444" stroke-width="0.9"/>
<rect x="144.2" y="95.0" width="70.70" height="40.80" fill="#00008c"/>
<rect x="144.60" y="95.40" width="69.90" height="40.00" fill="none" stroke="#000070" stroke-width="0.8"/>
<ellipse cx="174" cy="115.5" rx="29" ry="6.0" fill="url(#gh)" opacity="0.45"/>
<clipPath id="cp3"><rect x="144.2" y="95.0" width="70.70" height="40.80"/></clipPath>
<g clip-path="url(#cp3)"><ellipse cx="147.9" cy="114.1" rx="2.95" ry="1.56" fill="url(#gb)"/><ellipse cx="153.9" cy="112.8" rx="3.94" ry="2.05" fill="url(#gb)"/><ellipse cx="157.3" cy="114.1" rx="3.94" ry="2.05" fill="url(#gb)"/><ellipse cx="164" cy="114.1" rx="3.94" ry="2.05" fill="url(#gb)"/><ellipse cx="169.1" cy="114.1" rx="4.26" ry="2.30" fill="url(#gb)"/><ellipse cx="167.4" cy="111.9" rx="2.95" ry="1.56" fill="url(#gb)"/><ellipse cx="153" cy="117" rx="3.94" ry="2.05" fill="url(#gb)"/><ellipse cx="156.4" cy="117.9" rx="3.94" ry="2.05" fill="url(#gb)"/><ellipse cx="161.5" cy="117" rx="4.10" ry="2.21" fill="url(#gb)"/><ellipse cx="164" cy="117" rx="4.26" ry="2.30" fill="url(#gb)"/><ellipse cx="166.6" cy="116.6" rx="4.26" ry="2.30" fill="url(#gb)"/><ellipse cx="172.5" cy="115.3" rx="3.94" ry="2.05" fill="url(#gb)"/><ellipse cx="174.2" cy="117.5" rx="3.94" ry="2.05" fill="url(#gb)"/><ellipse cx="176.8" cy="114.1" rx="3.94" ry="2.05" fill="url(#gb)"/><ellipse cx="171.7" cy="118.7" rx="4.10" ry="2.21" fill="url(#gb)"/><ellipse cx="176.8" cy="118.7" rx="3.94" ry="2.05" fill="url(#gb)"/><ellipse cx="163.2" cy="110.7" rx="2.95" ry="1.56" fill="url(#gb)"/><ellipse cx="169.1" cy="120.4" rx="2.95" ry="1.56" fill="url(#gb)"/><ellipse cx="159" cy="120" rx="2.95" ry="1.56" fill="url(#gb)"/><ellipse cx="178.8" cy="114.1" rx="4.10" ry="2.21" fill="url(#gb)"/><ellipse cx="183.1" cy="112.8" rx="3.94" ry="2.05" fill="url(#gb)"/><ellipse cx="186.5" cy="114.5" rx="3.94" ry="2.05" fill="url(#gb)"/><ellipse cx="183.5" cy="117.9" rx="4.10" ry="2.21" fill="url(#gb)"/><ellipse cx="179.7" cy="118.3" rx="3.94" ry="2.05" fill="url(#gb)"/><ellipse cx="190.7" cy="114.1" rx="2.95" ry="1.56" fill="url(#gb)"/><ellipse cx="195" cy="117" rx="2.95" ry="1.56" fill="url(#gb)"/><ellipse cx="201.7" cy="114.1" rx="2.95" ry="1.56" fill="url(#gb)"/><ellipse cx="200.9" cy="117.9" rx="2.95" ry="1.56" fill="url(#gb)"/><ellipse cx="207.7" cy="118.7" rx="2.95" ry="1.56" fill="url(#gb)"/><ellipse cx="211.1" cy="119.6" rx="2.95" ry="1.56" fill="url(#gb)"/><ellipse cx="189" cy="120.4" rx="2.95" ry="1.56" fill="url(#gb)"/><ellipse cx="196.7" cy="111.9" rx="2.95" ry="1.56" fill="url(#gb)"/><ellipse cx="211.9" cy="111.5" rx="2.95" ry="1.56" fill="url(#gb)"/><ellipse cx="193.0" cy="116.7" rx="1.96" ry="1.03" fill="url(#gb)"/><ellipse cx="190.3" cy="113.8" rx="2.17" ry="1.14" fill="url(#gb)"/><ellipse cx="156.0" cy="114.5" rx="3.01" ry="1.57" fill="url(#gb)"/><ellipse cx="211.2" cy="111.1" rx="1.96" ry="1.03" fill="url(#gb)"/><ellipse cx="209.2" cy="115.4" rx="2.34" ry="1.23" fill="url(#gb)"/><ellipse cx="151.6" cy="113.3" rx="2.20" ry="1.14" fill="url(#gb)"/><ellipse cx="167.6" cy="114.0" rx="2.31" ry="1.22" fill="url(#gb)"/><ellipse cx="166.9" cy="119.8" rx="2.13" ry="1.11" fill="url(#gb)"/><ellipse cx="189.9" cy="117.5" rx="2.63" ry="1.38" fill="url(#gb)"/><ellipse cx="163.6" cy="109.8" rx="1.86" ry="0.97" fill="url(#gb)"/><ellipse cx="178.6" cy="116.7" rx="2.09" ry="1.10" fill="url(#gb)"/><ellipse cx="210.3" cy="116.9" rx="1.95" ry="1.03" fill="url(#gb)"/><ellipse cx="211.8" cy="115.9" rx="2.06" ry="1.09" fill="url(#gb)"/><ellipse cx="163.2" cy="111.6" rx="2.16" ry="1.13" fill="url(#gb)"/><ellipse cx="198.5" cy="112.7" rx="2.02" ry="1.06" fill="url(#gb)"/><ellipse cx="158.2" cy="117.4" rx="2.65" ry="1.39" fill="url(#gb)"/><ellipse cx="162.4" cy="114.8" rx="2.22" ry="1.16" fill="url(#gb)"/><ellipse cx="196.4" cy="116.4" rx="2.37" ry="1.25" fill="url(#gb)"/><ellipse cx="193.0" cy="117.1" rx="1.87" ry="0.98" fill="url(#gb)"/><ellipse cx="172.1" cy="111.4" rx="1.77" ry="0.93" fill="url(#gb)"/><ellipse cx="168.2" cy="121.1" rx="2.03" ry="1.06" fill="url(#gb)"/><ellipse cx="181.9" cy="112.2" rx="2.19" ry="1.15" fill="url(#gb)"/><ellipse cx="187.8" cy="117.8" rx="2.17" ry="1.14" fill="url(#gb)"/><ellipse cx="167.0" cy="114.0" rx="1.78" ry="0.93" fill="url(#gb)"/><ellipse cx="176.5" cy="121.3" rx="2.30" ry="1.20" fill="url(#gb)"/><ellipse cx="153.9" cy="112.8" rx="3.28" ry="1.64" fill="url(#glb)"/><ellipse cx="157.3" cy="114.1" rx="3.28" ry="1.64" fill="url(#glb)"/><ellipse cx="164" cy="114.1" rx="3.28" ry="1.64" fill="url(#glb)"/><ellipse cx="169.1" cy="114.1" rx="3.61" ry="1.89" fill="url(#glb)"/><ellipse cx="153" cy="117" rx="3.28" ry="1.64" fill="url(#glb)"/><ellipse cx="156.4" cy="117.9" rx="3.28" ry="1.64" fill="url(#glb)"/><ellipse cx="161.5" cy="117" rx="3.44" ry="1.80" fill="url(#glb)"/><ellipse cx="164" cy="117" rx="3.61" ry="1.89" fill="url(#glb)"/><ellipse cx="166.6" cy="116.6" rx="3.61" ry="1.89" fill="url(#glb)"/><ellipse cx="172.5" cy="115.3" rx="3.28" ry="1.64" fill="url(#glb)"/><ellipse cx="174.2" cy="117.5" rx="3.28" ry="1.64" fill="url(#glb)"/><ellipse cx="176.8" cy="114.1" rx="3.28" ry="1.64" fill="url(#glb)"/><ellipse cx="171.7" cy="118.7" rx="3.44" ry="1.80" fill="url(#glb)"/><ellipse cx="176.8" cy="118.7" rx="3.28" ry="1.64" fill="url(#glb)"/><ellipse cx="178.8" cy="114.1" rx="3.44" ry="1.80" fill="url(#glb)"/><ellipse cx="183.1" cy="112.8" rx="3.28" ry="1.72" fill="url(#glb)"/><ellipse cx="186.5" cy="114.5" rx="3.28" ry="1.64" fill="url(#glb)"/><ellipse cx="183.5" cy="117.9" rx="3.44" ry="1.80" fill="url(#glb)"/><ellipse cx="179.7" cy="118.3" rx="3.28" ry="1.64" fill="url(#glb)"/><ellipse cx="193.0" cy="116.7" rx="1.40" ry="0.70" fill="url(#glb)"/><ellipse cx="156.0" cy="114.5" rx="2.51" ry="1.26" fill="url(#glb)"/><ellipse cx="151.6" cy="113.3" rx="1.83" ry="0.92" fill="url(#glb)"/><ellipse cx="166.9" cy="119.8" rx="1.77" ry="0.89" fill="url(#glb)"/><ellipse cx="189.9" cy="117.5" rx="1.88" ry="0.94" fill="url(#glb)"/><ellipse cx="163.6" cy="109.8" rx="1.33" ry="0.66" fill="url(#glb)"/><ellipse cx="163.2" cy="111.6" rx="1.54" ry="0.77" fill="url(#glb)"/><ellipse cx="198.5" cy="112.7" rx="1.44" ry="0.72" fill="url(#glb)"/><ellipse cx="158.2" cy="117.4" rx="1.89" ry="0.94" fill="url(#glb)"/><ellipse cx="162.4" cy="114.8" rx="1.58" ry="0.79" fill="url(#glb)"/><ellipse cx="168.2" cy="121.1" rx="1.45" ry="0.72" fill="url(#glb)"/><ellipse cx="181.9" cy="112.2" rx="1.56" ry="0.78" fill="url(#glb)"/><ellipse cx="167.0" cy="114.0" rx="1.27" ry="0.64" fill="url(#glb)"/><ellipse cx="176.5" cy="121.3" rx="1.64" ry="0.82" fill="url(#glb)"/><ellipse cx="153.9" cy="112.8" rx="2.46" ry="1.15" fill="url(#gc)"/><ellipse cx="157.3" cy="114.1" rx="2.46" ry="1.15" fill="url(#gc)"/><ellipse cx="164" cy="114.1" rx="2.46" ry="1.15" fill="url(#gc)"/><ellipse cx="169.1" cy="114.1" rx="3.03" ry="1.56" fill="url(#gc)"/><ellipse cx="153" cy="117" rx="2.46" ry="1.15" fill="url(#gc)"/><ellipse cx="156.4" cy="117.9" rx="2.46" ry="1.15" fill="url(#gc)"/><ellipse cx="161.5" cy="117" rx="2.87" ry="1.48" fill="url(#gc)"/><ellipse cx="164" cy="117" rx="3.03" ry="1.56" fill="url(#gc)"/><ellipse cx="166.6" cy="116.6" rx="3.03" ry="1.56" fill="url(#gc)"/><ellipse cx="172.5" cy="115.3" rx="2.46" ry="1.15" fill="url(#gc)"/><ellipse cx="174.2" cy="117.5" rx="2.46" ry="1.15" fill="url(#gc)"/><ellipse cx="176.8" cy="114.1" rx="2.46" ry="1.15" fill="url(#gc)"/><ellipse cx="171.7" cy="118.7" rx="2.87" ry="1.48" fill="url(#gc)"/><ellipse cx="176.8" cy="118.7" rx="2.46" ry="1.15" fill="url(#gc)"/><ellipse cx="178.8" cy="114.1" rx="2.87" ry="1.48" fill="url(#gc)"/><ellipse cx="183.1" cy="112.8" rx="2.62" ry="1.31" fill="url(#gc)"/><ellipse cx="186.5" cy="114.5" rx="2.46" ry="1.15" fill="url(#gc)"/><ellipse cx="183.5" cy="117.9" rx="2.87" ry="1.48" fill="url(#gc)"/><ellipse cx="179.7" cy="118.3" rx="2.46" ry="1.15" fill="url(#gc)"/><ellipse cx="156.0" cy="114.5" rx="1.88" ry="0.88" fill="url(#gc)"/><ellipse cx="151.6" cy="113.3" rx="1.37" ry="0.64" fill="url(#gc)"/><ellipse cx="166.9" cy="119.8" rx="1.33" ry="0.62" fill="url(#gc)"/><ellipse cx="161.5" cy="117" rx="2.30" ry="1.15" fill="url(#gg)"/><ellipse cx="171.7" cy="118.7" rx="2.30" ry="1.15" fill="url(#gg)"/><ellipse cx="178.8" cy="114.1" rx="2.30" ry="1.15" fill="url(#gg)"/><ellipse cx="183.1" cy="112.8" rx="1.80" ry="0.90" fill="url(#gg)"/><ellipse cx="183.5" cy="117.9" rx="2.30" ry="1.15" fill="url(#gg)"/><ellipse cx="169.1" cy="114.1" rx="2.30" ry="1.15" fill="url(#gy)"/><ellipse cx="161.5" cy="117" rx="1.64" ry="0.82" fill="url(#gy)"/><ellipse cx="164" cy="117" rx="2.30" ry="1.15" fill="url(#gy)"/><ellipse cx="166.6" cy="116.6" rx="2.30" ry="1.15" fill="url(#gy)"/><ellipse cx="171.7" cy="118.7" rx="1.64" ry="0.82" fill="url(#gy)"/><ellipse cx="178.8" cy="114.1" rx="1.64" ry="0.82" fill="url(#gy)"/><ellipse cx="183.5" cy="117.9" rx="1.64" ry="0.82" fill="url(#gy)"/><ellipse cx="169.1" cy="114.1" rx="1.48" ry="0.74" fill="url(#go)"/><ellipse cx="164" cy="117" rx="1.48" ry="0.74" fill="url(#go)"/><ellipse cx="166.6" cy="116.6" rx="1.48" ry="0.74" fill="url(#go)"/></g>
<polygon points="66.90,111.75 102.70,111.75 104.89,111.96 107.07,112.27 109.26,112.63 111.45,113.03 113.64,113.42 115.82,113.78 118.01,114.09 120.20,114.30 144.50,114.30 144.50,114.80 150.20,114.80 150.20,116.00 144.50,116.00 144.50,116.50 120.20,116.50 118.01,116.71 115.82,117.02 113.64,117.38 111.45,117.78 109.26,118.17 107.07,118.53 104.89,118.84 102.70,119.05 66.90,119.05" fill="#00008a"/>
<polygon points="129.35,105.10 139.30,105.10 133.20,115.40 139.30,125.70 129.35,125.70" fill="#00008a"/>
<text x="63.9" y="104.0" font-family="'Liberation Serif', 'Times New Roman', serif" font-size="8.1" fill="#000" stroke="#000" stroke-width="0.12">Mode 3</text>
<rect x="237.4" y="93.6" width="162.40" height="43.70" fill="#fff" stroke="#b8b8b8" stroke-width="1.6"/>
<text transform="translate(234.40 97.40) scale(0.92 1)" text-anchor="end" font-family="'Liberation Sans', Arial, sans-serif" font-size="4.6" fill="#555">0.02</text>
<line x1="236.00" y1="95.20" x2="237.40" y2="95.20" stroke="#444" stroke-width="0.9"/>
<text transform="translate(234.40 107.51) scale(0.92 1)" text-anchor="end" font-family="'Liberation Sans', Arial, sans-serif" font-size="4.6" fill="#555">0.01</text>
<line x1="236.00" y1="105.31" x2="237.40" y2="105.31" stroke="#444" stroke-width="0.9"/>
<text transform="translate(234.40 117.63) scale(0.92 1)" text-anchor="end" font-family="'Liberation Sans', Arial, sans-serif" font-size="4.6" fill="#555">0.00</text>
<line x1="236.00" y1="115.43" x2="237.40" y2="115.43" stroke="#444" stroke-width="0.9"/>
<text transform="translate(234.40 127.74) scale(0.92 1)" text-anchor="end" font-family="'Liberation Sans', Arial, sans-serif" font-size="4.6" fill="#555">-0.01</text>
<line x1="236.00" y1="125.54" x2="237.40" y2="125.54" stroke="#444" stroke-width="0.9"/>
<text transform="translate(234.40 137.85) scale(0.92 1)" text-anchor="end" font-family="'Liberation Sans', Arial, sans-serif" font-size="4.6" fill="#555">-0.02</text>
<line x1="236.00" y1="135.65" x2="237.40" y2="135.65" stroke="#444" stroke-width="0.9"/>
<text transform="translate(245.10 143.80) scale(0.92 1)" text-anchor="middle" font-family="'Liberation Sans', Arial, sans-serif" font-size="4.6" fill="#555">0.00</text>
<line x1="245.10" y1="137.30" x2="245.10" y2="138.50" stroke="#444" stroke-width="0.9"/>
<text transform="translate(265.15 143.80) scale(0.92 1)" text-anchor="middle" font-family="'Liberation Sans', Arial, sans-serif" font-size="4.6" fill="#555">0.02</text>
<line x1="265.15" y1="137.30" x2="265.15" y2="138.50" stroke="#444" stroke-width="0.9"/>
<text transform="translate(285.20 143.80) scale(0.92 1)" text-anchor="middle" font-family="'Liberation Sans', Arial, sans-serif" font-size="4.6" fill="#555">0.04</text>
<line x1="285.20" y1="137.30" x2="285.20" y2="138.50" stroke="#444" stroke-width="0.9"/>
<text transform="translate(305.25 143.80) scale(0.92 1)" text-anchor="middle" font-family="'Liberation Sans', Arial, sans-serif" font-size="4.6" fill="#555">0.06</text>
<line x1="305.25" y1="137.30" x2="305.25" y2="138.50" stroke="#444" stroke-width="0.9"/>
<text transform="translate(325.30 143.80) scale(0.92 1)" text-anchor="middle" font-family="'Liberation Sans', Arial, sans-serif" font-size="4.6" fill="#555">0.08</text>
<line x1="325.30" y1="137.30" x2="325.30" y2="138.50" stroke="#444" stroke-width="0.9"/>
<text transform="translate(345.35 143.80) scale(0.92 1)" text-anchor="middle" font-family="'Liberation Sans', Arial, sans-serif" font-size="4.6" fill="#555">0.10</text>
<line x1="345.35" y1="137.30" x2="345.35" y2="138.50" stroke="#444" stroke-width="0.9"/>
<text transform="translate(365.40 143.80) scale(0.92 1)" text-anchor="middle" font-family="'Liberation Sans', Arial, sans-serif" font-size="4.6" fill="#555">0.12</text>
<line x1="365.40" y1="137.30" x2="365.40" y2="138.50" stroke="#444" stroke-width="0.9"/>
<text transform="translate(385.45 143.80) scale(0.92 1)" text-anchor="middle" font-family="'Liberation Sans', Arial, sans-serif" font-size="4.6" fill="#555">0.14</text>
<line x1="385.45" y1="137.30" x2="385.45" y2="138.50" stroke="#444" stroke-width="0.9"/>
<rect x="321.8" y="95.2" width="70.20" height="40.45" fill="#00008c"/>
<rect x="322.20" y="95.60" width="69.40" height="39.65" fill="none" stroke="#000070" stroke-width="0.8"/>
<ellipse cx="352" cy="114.5" rx="29" ry="5.0" fill="url(#gh)" opacity="0.45"/>
<clipPath id="cp4"><rect x="321.8" y="95.2" width="70.20" height="40.45"/></clipPath>
<g clip-path="url(#cp4)"><ellipse cx="324.4" cy="114.1" rx="3.36" ry="1.76" fill="url(#gb)"/><ellipse cx="327.3" cy="114.1" rx="3.84" ry="2.00" fill="url(#gb)"/><ellipse cx="330.3" cy="114.1" rx="3.84" ry="2.00" fill="url(#gb)"/><ellipse cx="333.3" cy="114.5" rx="4.00" ry="2.16" fill="url(#gb)"/><ellipse cx="337.5" cy="114.5" rx="4.00" ry="2.16" fill="url(#gb)"/><ellipse cx="340.5" cy="114.9" rx="4.00" ry="2.16" fill="url(#gb)"/><ellipse cx="343.4" cy="114.5" rx="3.84" ry="2.00" fill="url(#gb)"/><ellipse cx="343.9" cy="116.6" rx="4.00" ry="2.16" fill="url(#gb)"/><ellipse cx="347.7" cy="113.6" rx="3.84" ry="2.00" fill="url(#gb)"/><ellipse cx="350.2" cy="114.5" rx="3.84" ry="2.00" fill="url(#gb)"/><ellipse cx="353.2" cy="114.5" rx="3.84" ry="2.00" fill="url(#gb)"/><ellipse cx="330.7" cy="117" rx="2.88" ry="1.52" fill="url(#gb)"/><ellipse cx="335" cy="117" rx="3.84" ry="2.00" fill="url(#gb)"/><ellipse cx="340.9" cy="111.1" rx="2.88" ry="1.52" fill="url(#gb)"/><ellipse cx="346" cy="111.1" rx="2.88" ry="1.52" fill="url(#gb)"/><ellipse cx="347.7" cy="117.9" rx="2.88" ry="1.52" fill="url(#gb)"/><ellipse cx="351.9" cy="117.9" rx="2.88" ry="1.52" fill="url(#gb)"/><ellipse cx="354.4" cy="114.5" rx="3.84" ry="2.00" fill="url(#gb)"/><ellipse cx="359.5" cy="116.2" rx="3.84" ry="2.00" fill="url(#gb)"/><ellipse cx="362.9" cy="114.5" rx="3.36" ry="1.76" fill="url(#gb)"/><ellipse cx="357.4" cy="111.9" rx="2.88" ry="1.52" fill="url(#gb)"/><ellipse cx="356.5" cy="117.9" rx="2.88" ry="1.52" fill="url(#gb)"/><ellipse cx="369.7" cy="116.2" rx="2.88" ry="1.52" fill="url(#gb)"/><ellipse cx="374.4" cy="114.5" rx="2.88" ry="1.52" fill="url(#gb)"/><ellipse cx="379.4" cy="114.5" rx="2.88" ry="1.52" fill="url(#gb)"/><ellipse cx="383.7" cy="114.5" rx="2.88" ry="1.52" fill="url(#gb)"/><ellipse cx="379.4" cy="109.8" rx="2.88" ry="1.52" fill="url(#gb)"/><ellipse cx="385.4" cy="118.7" rx="2.88" ry="1.52" fill="url(#gb)"/><ellipse cx="364.2" cy="118.3" rx="2.88" ry="1.52" fill="url(#gb)"/><ellipse cx="324.8" cy="116.2" rx="2.05" ry="1.11" fill="url(#gb)"/><ellipse cx="339.3" cy="117.1" rx="2.74" ry="1.48" fill="url(#gb)"/><ellipse cx="367.7" cy="117.8" rx="1.71" ry="0.90" fill="url(#gb)"/><ellipse cx="389.8" cy="117.8" rx="1.40" ry="0.74" fill="url(#gb)"/><ellipse cx="386.0" cy="113.2" rx="1.67" ry="0.88" fill="url(#gb)"/><ellipse cx="387.0" cy="116.1" rx="1.56" ry="0.82" fill="url(#gb)"/><ellipse cx="362.6" cy="106.2" rx="1.95" ry="1.02" fill="url(#gb)"/><ellipse cx="337.5" cy="112.6" rx="1.88" ry="0.98" fill="url(#gb)"/><ellipse cx="372.5" cy="118.3" rx="2.02" ry="1.06" fill="url(#gb)"/><ellipse cx="372.2" cy="111.2" rx="1.89" ry="1.00" fill="url(#gb)"/><ellipse cx="338.5" cy="117.8" rx="1.90" ry="1.00" fill="url(#gb)"/><ellipse cx="379.2" cy="115.7" rx="2.52" ry="1.32" fill="url(#gb)"/><ellipse cx="389.6" cy="115.6" rx="1.88" ry="0.99" fill="url(#gb)"/><ellipse cx="360.0" cy="111.8" rx="1.70" ry="0.89" fill="url(#gb)"/><ellipse cx="336.7" cy="118.6" rx="2.36" ry="1.28" fill="url(#gb)"/><ellipse cx="384.1" cy="112.8" rx="2.17" ry="1.15" fill="url(#gb)"/><ellipse cx="337.0" cy="109.6" rx="2.14" ry="1.12" fill="url(#gb)"/><ellipse cx="331.8" cy="116.2" rx="1.48" ry="0.78" fill="url(#gb)"/><ellipse cx="336.8" cy="112.4" rx="2.37" ry="1.24" fill="url(#gb)"/><ellipse cx="376.0" cy="119.5" rx="1.68" ry="0.89" fill="url(#gb)"/><ellipse cx="364.4" cy="114.2" rx="1.50" ry="0.79" fill="url(#gb)"/><ellipse cx="371.9" cy="114.2" rx="2.16" ry="1.14" fill="url(#gb)"/><ellipse cx="374.7" cy="114.7" rx="1.94" ry="1.02" fill="url(#gb)"/><ellipse cx="324.7" cy="117.8" rx="1.78" ry="0.93" fill="url(#gb)"/><ellipse cx="327.0" cy="117.7" rx="1.55" ry="0.82" fill="url(#gb)"/><ellipse cx="336.8" cy="119.3" rx="2.04" ry="1.06" fill="url(#gb)"/><ellipse cx="354.0" cy="113.3" rx="1.99" ry="1.04" fill="url(#gb)"/><ellipse cx="358.6" cy="110.6" rx="2.04" ry="1.07" fill="url(#gb)"/><ellipse cx="371.3" cy="113.1" rx="2.01" ry="1.06" fill="url(#gb)"/><ellipse cx="373.2" cy="115.3" rx="2.25" ry="1.18" fill="url(#gb)"/><ellipse cx="362.3" cy="118.5" rx="1.72" ry="0.91" fill="url(#gb)"/><ellipse cx="333.3" cy="119.5" rx="1.72" ry="0.91" fill="url(#gb)"/><ellipse cx="370.9" cy="112.4" rx="2.30" ry="1.20" fill="url(#gb)"/><ellipse cx="378.6" cy="114.3" rx="1.87" ry="0.99" fill="url(#gb)"/><ellipse cx="383.1" cy="114.8" rx="1.67" ry="0.88" fill="url(#gb)"/><ellipse cx="350.5" cy="117.5" rx="1.97" ry="1.03" fill="url(#gb)"/><ellipse cx="337.1" cy="115.5" rx="2.33" ry="1.22" fill="url(#gb)"/><ellipse cx="328.4" cy="116.8" rx="1.77" ry="0.93" fill="url(#gb)"/><ellipse cx="324.4" cy="114.1" rx="2.40" ry="1.20" fill="url(#glb)"/><ellipse cx="327.3" cy="114.1" rx="3.20" ry="1.60" fill="url(#glb)"/><ellipse cx="330.3" cy="114.1" rx="3.20" ry="1.60" fill="url(#glb)"/><ellipse cx="333.3" cy="114.5" rx="3.36" ry="1.76" fill="url(#glb)"/><ellipse cx="337.5" cy="114.5" rx="3.36" ry="1.76" fill="url(#glb)"/><ellipse cx="340.5" cy="114.9" rx="3.36" ry="1.76" fill="url(#glb)"/><ellipse cx="343.4" cy="114.5" rx="3.20" ry="1.60" fill="url(#glb)"/><ellipse cx="343.9" cy="116.6" rx="3.36" ry="1.76" fill="url(#glb)"/><ellipse cx="347.7" cy="113.6" rx="3.20" ry="1.60" fill="url(#glb)"/><ellipse cx="350.2" cy="114.5" rx="3.20" ry="1.60" fill="url(#glb)"/><ellipse cx="353.2" cy="114.5" rx="3.20" ry="1.60" fill="url(#glb)"/><ellipse cx="335" cy="117" rx="3.20" ry="1.60" fill="url(#glb)"/><ellipse cx="354.4" cy="114.5" rx="3.20" ry="1.60" fill="url(#glb)"/><ellipse cx="359.5" cy="116.2" rx="3.20" ry="1.60" fill="url(#glb)"/><ellipse cx="362.9" cy="114.5" rx="2.40" ry="1.20" fill="url(#glb)"/><ellipse cx="324.8" cy="116.2" rx="1.72" ry="0.90" fill="url(#glb)"/><ellipse cx="339.3" cy="117.1" rx="2.30" ry="1.21" fill="url(#glb)"/><ellipse cx="362.6" cy="106.2" rx="1.39" ry="0.69" fill="url(#glb)"/><ellipse cx="337.5" cy="112.6" rx="1.57" ry="0.78" fill="url(#glb)"/><ellipse cx="379.2" cy="115.7" rx="1.80" ry="0.90" fill="url(#glb)"/><ellipse cx="360.0" cy="111.8" rx="1.22" ry="0.61" fill="url(#glb)"/><ellipse cx="336.7" cy="118.6" rx="1.99" ry="1.04" fill="url(#glb)"/><ellipse cx="337.0" cy="109.6" rx="1.53" ry="0.76" fill="url(#glb)"/><ellipse cx="336.8" cy="112.4" rx="1.98" ry="0.99" fill="url(#glb)"/><ellipse cx="374.7" cy="114.7" rx="1.39" ry="0.69" fill="url(#glb)"/><ellipse cx="324.7" cy="117.8" rx="1.27" ry="0.64" fill="url(#glb)"/><ellipse cx="336.8" cy="119.3" rx="1.70" ry="0.85" fill="url(#glb)"/><ellipse cx="354.0" cy="113.3" rx="1.42" ry="0.71" fill="url(#glb)"/><ellipse cx="358.6" cy="110.6" rx="1.46" ry="0.73" fill="url(#glb)"/><ellipse cx="373.2" cy="115.3" rx="1.61" ry="0.81" fill="url(#glb)"/><ellipse cx="370.9" cy="112.4" rx="1.64" ry="0.82" fill="url(#glb)"/><ellipse cx="350.5" cy="117.5" rx="1.41" ry="0.70" fill="url(#glb)"/><ellipse cx="337.1" cy="115.5" rx="1.66" ry="0.83" fill="url(#glb)"/><ellipse cx="327.3" cy="114.1" rx="2.40" ry="1.12" fill="url(#gc)"/><ellipse cx="330.3" cy="114.1" rx="2.40" ry="1.12" fill="url(#gc)"/><ellipse cx="333.3" cy="114.5" rx="2.80" ry="1.44" fill="url(#gc)"/><ellipse cx="337.5" cy="114.5" rx="2.80" ry="1.44" fill="url(#gc)"/><ellipse cx="340.5" cy="114.9" rx="2.80" ry="1.44" fill="url(#gc)"/><ellipse cx="343.4" cy="114.5" rx="2.40" ry="1.12" fill="url(#gc)"/><ellipse cx="343.9" cy="116.6" rx="2.80" ry="1.44" fill="url(#gc)"/><ellipse cx="347.7" cy="113.6" rx="2.40" ry="1.12" fill="url(#gc)"/><ellipse cx="350.2" cy="114.5" rx="2.40" ry="1.12" fill="url(#gc)"/><ellipse cx="353.2" cy="114.5" rx="2.40" ry="1.12" fill="url(#gc)"/><ellipse cx="335" cy="117" rx="2.40" ry="1.12" fill="url(#gc)"/><ellipse cx="354.4" cy="114.5" rx="2.40" ry="1.12" fill="url(#gc)"/><ellipse cx="359.5" cy="116.2" rx="2.40" ry="1.12" fill="url(#gc)"/><ellipse cx="324.8" cy="116.2" rx="1.43" ry="0.74" fill="url(#gc)"/><ellipse cx="339.3" cy="117.1" rx="1.92" ry="0.99" fill="url(#gc)"/><ellipse cx="337.5" cy="112.6" rx="1.18" ry="0.55" fill="url(#gc)"/><ellipse cx="336.7" cy="118.6" rx="1.65" ry="0.85" fill="url(#gc)"/><ellipse cx="336.8" cy="112.4" rx="1.48" ry="0.69" fill="url(#gc)"/><ellipse cx="336.8" cy="119.3" rx="1.28" ry="0.60" fill="url(#gc)"/><ellipse cx="333.3" cy="114.5" rx="2.24" ry="1.12" fill="url(#gg)"/><ellipse cx="337.5" cy="114.5" rx="2.24" ry="1.12" fill="url(#gg)"/><ellipse cx="340.5" cy="114.9" rx="2.24" ry="1.12" fill="url(#gg)"/><ellipse cx="343.9" cy="116.6" rx="2.24" ry="1.12" fill="url(#gg)"/><ellipse cx="324.8" cy="116.2" rx="1.15" ry="0.57" fill="url(#gg)"/><ellipse cx="339.3" cy="117.1" rx="1.53" ry="0.77" fill="url(#gg)"/><ellipse cx="336.7" cy="118.6" rx="1.32" ry="0.66" fill="url(#gg)"/><ellipse cx="333.3" cy="114.5" rx="1.60" ry="0.80" fill="url(#gy)"/><ellipse cx="337.5" cy="114.5" rx="1.60" ry="0.80" fill="url(#gy)"/><ellipse cx="340.5" cy="114.9" rx="1.60" ry="0.80" fill="url(#gy)"/><ellipse cx="343.9" cy="116.6" rx="1.60" ry="0.80" fill="url(#gy)"/><ellipse cx="324.8" cy="116.2" rx="0.82" ry="0.41" fill="url(#gy)"/><ellipse cx="339.3" cy="117.1" rx="1.10" ry="0.55" fill="url(#gy)"/><ellipse cx="336.7" cy="118.6" rx="0.95" ry="0.47" fill="url(#gy)"/></g>
<polygon points="245.10,111.95 280.30,111.95 282.49,112.16 284.68,112.47 286.86,112.83 289.05,113.22 291.24,113.62 293.43,113.98 295.61,114.29 297.80,114.50 322.10,114.50 322.10,115.00 328.80,115.00 328.80,116.20 322.10,116.20 322.10,116.70 297.80,116.70 295.61,116.91 293.43,117.22 291.24,117.58 289.05,117.97 286.86,118.37 284.68,118.73 282.49,119.04 280.30,119.25 245.10,119.25" fill="#00008a"/>
<polygon points="306.95,105.30 316.90,105.30 310.80,115.60 316.90,125.90 306.95,125.90" fill="#00008a"/>
<text x="243.0" y="103.9" font-family="'Liberation Serif', 'Times New Roman', serif" font-size="8.1" fill="#000" stroke="#000" stroke-width="0.12">Mode 4</text>
<rect x="59.2" y="147.65" width="163.40" height="43.95" fill="#fff" stroke="#b8b8b8" stroke-width="1.6"/>
<text transform="translate(56.20 151.40) scale(0.92 1)" text-anchor="end" font-family="'Liberation Sans', Arial, sans-serif" font-size="4.6" fill="#555">0.02</text>
<line x1="57.80" y1="149.20" x2="59.20" y2="149.20" stroke="#444" stroke-width="0.9"/>
<text transform="translate(56.20 161.55) scale(0.92 1)" text-anchor="end" font-family="'Liberation Sans', Arial, sans-serif" font-size="4.6" fill="#555">0.01</text>
<line x1="57.80" y1="159.35" x2="59.20" y2="159.35" stroke="#444" stroke-width="0.9"/>
<text transform="translate(56.20 171.70) scale(0.92 1)" text-anchor="end" font-family="'Liberation Sans', Arial, sans-serif" font-size="4.6" fill="#555">0.00</text>
<line x1="57.80" y1="169.50" x2="59.20" y2="169.50" stroke="#444" stroke-width="0.9"/>
<text transform="translate(56.20 181.85) scale(0.92 1)" text-anchor="end" font-family="'Liberation Sans', Arial, sans-serif" font-size="4.6" fill="#555">-0.01</text>
<line x1="57.80" y1="179.65" x2="59.20" y2="179.65" stroke="#444" stroke-width="0.9"/>
<text transform="translate(56.20 192.00) scale(0.92 1)" text-anchor="end" font-family="'Liberation Sans', Arial, sans-serif" font-size="4.6" fill="#555">-0.02</text>
<line x1="57.80" y1="189.80" x2="59.20" y2="189.80" stroke="#444" stroke-width="0.9"/>
<text transform="translate(66.74 198.10) scale(0.92 1)" text-anchor="middle" font-family="'Liberation Sans', Arial, sans-serif" font-size="4.6" fill="#555">0.00</text>
<line x1="66.74" y1="191.60" x2="66.74" y2="192.80" stroke="#444" stroke-width="0.9"/>
<text transform="translate(86.97 198.10) scale(0.92 1)" text-anchor="middle" font-family="'Liberation Sans', Arial, sans-serif" font-size="4.6" fill="#555">0.02</text>
<line x1="86.97" y1="191.60" x2="86.97" y2="192.80" stroke="#444" stroke-width="0.9"/>
<text transform="translate(107.19 198.10) scale(0.92 1)" text-anchor="middle" font-family="'Liberation Sans', Arial, sans-serif" font-size="4.6" fill="#555">0.04</text>
<line x1="107.19" y1="191.60" x2="107.19" y2="192.80" stroke="#444" stroke-width="0.9"/>
<text transform="translate(127.41 198.10) scale(0.92 1)" text-anchor="middle" font-family="'Liberation Sans', Arial, sans-serif" font-size="4.6" fill="#555">0.06</text>
<line x1="127.41" y1="191.60" x2="127.41" y2="192.80" stroke="#444" stroke-width="0.9"/>
<text transform="translate(147.63 198.10) scale(0.92 1)" text-anchor="middle" font-family="'Liberation Sans', Arial, sans-serif" font-size="4.6" fill="#555">0.08</text>
<line x1="147.63" y1="191.60" x2="147.63" y2="192.80" stroke="#444" stroke-width="0.9"/>
<text transform="translate(167.85 198.10) scale(0.92 1)" text-anchor="middle" font-family="'Liberation Sans', Arial, sans-serif" font-size="4.6" fill="#555">0.10</text>
<line x1="167.85" y1="191.60" x2="167.85" y2="192.80" stroke="#444" stroke-width="0.9"/>
<text transform="translate(188.07 198.10) scale(0.92 1)" text-anchor="middle" font-family="'Liberation Sans', Arial, sans-serif" font-size="4.6" fill="#555">0.12</text>
<line x1="188.07" y1="191.60" x2="188.07" y2="192.80" stroke="#444" stroke-width="0.9"/>
<text transform="translate(208.29 198.10) scale(0.92 1)" text-anchor="middle" font-family="'Liberation Sans', Arial, sans-serif" font-size="4.6" fill="#555">0.14</text>
<line x1="208.29" y1="191.60" x2="208.29" y2="192.80" stroke="#444" stroke-width="0.9"/>
<rect x="144.1" y="149.2" width="70.80" height="40.60" fill="#00008c"/>
<rect x="144.50" y="149.60" width="70.00" height="39.80" fill="none" stroke="#000070" stroke-width="0.8"/>
<ellipse cx="174" cy="169.5" rx="29" ry="5.0" fill="url(#gh)" opacity="0.45"/>
<clipPath id="cp5"><rect x="144.1" y="149.2" width="70.80" height="40.60"/></clipPath>
<g clip-path="url(#cp5)"><ellipse cx="146.2" cy="168.5" rx="2.59" ry="1.37" fill="url(#gb)"/><ellipse cx="149.6" cy="168.5" rx="3.46" ry="1.80" fill="url(#gb)"/><ellipse cx="152.2" cy="168.1" rx="3.46" ry="1.80" fill="url(#gb)"/><ellipse cx="155.1" cy="168.9" rx="3.60" ry="1.94" fill="url(#gb)"/><ellipse cx="157.3" cy="169.3" rx="3.46" ry="1.80" fill="url(#gb)"/><ellipse cx="159.8" cy="168.5" rx="3.60" ry="1.94" fill="url(#gb)"/><ellipse cx="162.4" cy="168.9" rx="3.46" ry="1.80" fill="url(#gb)"/><ellipse cx="164.1" cy="170.2" rx="3.46" ry="1.80" fill="url(#gb)"/><ellipse cx="166.2" cy="170.6" rx="3.60" ry="1.94" fill="url(#gb)"/><ellipse cx="169.1" cy="168.1" rx="3.46" ry="1.80" fill="url(#gb)"/><ellipse cx="169.6" cy="171" rx="3.46" ry="1.80" fill="url(#gb)"/><ellipse cx="173" cy="168.5" rx="3.60" ry="1.94" fill="url(#gb)"/><ellipse cx="175.9" cy="168.9" rx="3.60" ry="1.94" fill="url(#gb)"/><ellipse cx="178.5" cy="171" rx="3.46" ry="1.80" fill="url(#gb)"/><ellipse cx="164.9" cy="166.4" rx="2.59" ry="1.37" fill="url(#gb)"/><ellipse cx="171.7" cy="165.9" rx="2.59" ry="1.37" fill="url(#gb)"/><ellipse cx="174.2" cy="172.3" rx="2.59" ry="1.37" fill="url(#gb)"/><ellipse cx="153" cy="171.5" rx="2.59" ry="1.37" fill="url(#gb)"/><ellipse cx="160.7" cy="171.9" rx="2.59" ry="1.37" fill="url(#gb)"/><ellipse cx="179.3" cy="171" rx="3.46" ry="1.80" fill="url(#gb)"/><ellipse cx="181.8" cy="170.2" rx="3.02" ry="1.58" fill="url(#gb)"/><ellipse cx="185.6" cy="169.3" rx="3.02" ry="1.58" fill="url(#gb)"/><ellipse cx="189" cy="168.1" rx="2.59" ry="1.37" fill="url(#gb)"/><ellipse cx="192.8" cy="169.8" rx="2.59" ry="1.37" fill="url(#gb)"/><ellipse cx="197.9" cy="168.9" rx="2.59" ry="1.37" fill="url(#gb)"/><ellipse cx="201.7" cy="170.2" rx="2.59" ry="1.37" fill="url(#gb)"/><ellipse cx="206" cy="168.9" rx="2.59" ry="1.37" fill="url(#gb)"/><ellipse cx="208.5" cy="172.7" rx="2.59" ry="1.37" fill="url(#gb)"/><ellipse cx="200.9" cy="164.2" rx="2.59" ry="1.37" fill="url(#gb)"/><ellipse cx="182.2" cy="165.9" rx="2.59" ry="1.37" fill="url(#gb)"/><ellipse cx="186.5" cy="173.6" rx="2.59" ry="1.37" fill="url(#gb)"/><ellipse cx="188.2" cy="165.4" rx="2.11" ry="1.12" fill="url(#gb)"/><ellipse cx="170.7" cy="171.5" rx="2.11" ry="1.11" fill="url(#gb)"/><ellipse cx="163.6" cy="167.3" rx="2.35" ry="1.23" fill="url(#gb)"/><ellipse cx="160.7" cy="173.0" rx="1.91" ry="1.00" fill="url(#gb)"/><ellipse cx="180.8" cy="172.2" rx="2.10" ry="1.11" fill="url(#gb)"/><ellipse cx="209.3" cy="169.6" rx="1.53" ry="0.81" fill="url(#gb)"/><ellipse cx="177.4" cy="169.4" rx="1.85" ry="0.97" fill="url(#gb)"/><ellipse cx="196.9" cy="173.8" rx="1.67" ry="0.88" fill="url(#gb)"/><ellipse cx="175.9" cy="167.3" rx="1.89" ry="1.00" fill="url(#gb)"/><ellipse cx="191.5" cy="170.5" rx="1.83" ry="0.97" fill="url(#gb)"/><ellipse cx="161.8" cy="169.1" rx="3.13" ry="1.69" fill="url(#gb)"/><ellipse cx="174.2" cy="167.2" rx="2.93" ry="1.53" fill="url(#gb)"/><ellipse cx="201.6" cy="173.6" rx="2.28" ry="1.20" fill="url(#gb)"/><ellipse cx="183.4" cy="170.3" rx="2.29" ry="1.21" fill="url(#gb)"/><ellipse cx="211.7" cy="169.6" rx="2.08" ry="1.10" fill="url(#gb)"/><ellipse cx="156.7" cy="170.6" rx="2.57" ry="1.35" fill="url(#gb)"/><ellipse cx="155.6" cy="171.0" rx="2.87" ry="1.50" fill="url(#gb)"/><ellipse cx="163.4" cy="172.0" rx="2.07" ry="1.09" fill="url(#gb)"/><ellipse cx="147.8" cy="171.3" rx="2.32" ry="1.21" fill="url(#gb)"/><ellipse cx="173.6" cy="171.8" rx="1.77" ry="0.93" fill="url(#gb)"/><ellipse cx="161.8" cy="172.5" rx="2.93" ry="1.58" fill="url(#gb)"/><ellipse cx="186.5" cy="170.3" rx="2.07" ry="1.09" fill="url(#gb)"/><ellipse cx="197.0" cy="169.2" rx="1.89" ry="1.00" fill="url(#gb)"/><ellipse cx="158.3" cy="171.8" rx="2.35" ry="1.23" fill="url(#gb)"/><ellipse cx="167.4" cy="169.0" rx="2.01" ry="1.05" fill="url(#gb)"/><ellipse cx="149.6" cy="168.5" rx="2.88" ry="1.44" fill="url(#glb)"/><ellipse cx="152.2" cy="168.1" rx="2.88" ry="1.44" fill="url(#glb)"/><ellipse cx="155.1" cy="168.9" rx="3.02" ry="1.58" fill="url(#glb)"/><ellipse cx="157.3" cy="169.3" rx="2.88" ry="1.44" fill="url(#glb)"/><ellipse cx="159.8" cy="168.5" rx="3.02" ry="1.58" fill="url(#glb)"/><ellipse cx="162.4" cy="168.9" rx="2.88" ry="1.44" fill="url(#glb)"/><ellipse cx="164.1" cy="170.2" rx="2.88" ry="1.44" fill="url(#glb)"/><ellipse cx="166.2" cy="170.6" rx="3.02" ry="1.58" fill="url(#glb)"/><ellipse cx="169.1" cy="168.1" rx="2.88" ry="1.44" fill="url(#glb)"/><ellipse cx="169.6" cy="171" rx="2.88" ry="1.44" fill="url(#glb)"/><ellipse cx="173" cy="168.5" rx="3.02" ry="1.58" fill="url(#glb)"/><ellipse cx="175.9" cy="168.9" rx="3.02" ry="1.58" fill="url(#glb)"/><ellipse cx="178.5" cy="171" rx="2.88" ry="1.44" fill="url(#glb)"/><ellipse cx="179.3" cy="171" rx="2.88" ry="1.44" fill="url(#glb)"/><ellipse cx="181.8" cy="170.2" rx="2.16" ry="1.08" fill="url(#glb)"/><ellipse cx="185.6" cy="169.3" rx="2.16" ry="1.08" fill="url(#glb)"/><ellipse cx="170.7" cy="171.5" rx="1.51" ry="0.75" fill="url(#glb)"/><ellipse cx="163.6" cy="167.3" rx="1.68" ry="0.84" fill="url(#glb)"/><ellipse cx="160.7" cy="173.0" rx="1.36" ry="0.68" fill="url(#glb)"/><ellipse cx="177.4" cy="169.4" rx="1.32" ry="0.66" fill="url(#glb)"/><ellipse cx="161.8" cy="169.1" rx="2.63" ry="1.38" fill="url(#glb)"/><ellipse cx="174.2" cy="167.2" rx="2.44" ry="1.22" fill="url(#glb)"/><ellipse cx="156.7" cy="170.6" rx="1.84" ry="0.92" fill="url(#glb)"/><ellipse cx="155.6" cy="171.0" rx="2.39" ry="1.20" fill="url(#glb)"/><ellipse cx="147.8" cy="171.3" rx="1.93" ry="0.97" fill="url(#glb)"/><ellipse cx="161.8" cy="172.5" rx="2.46" ry="1.29" fill="url(#glb)"/><ellipse cx="158.3" cy="171.8" rx="1.68" ry="0.84" fill="url(#glb)"/><ellipse cx="167.4" cy="169.0" rx="1.43" ry="0.72" fill="url(#glb)"/><ellipse cx="149.6" cy="168.5" rx="2.16" ry="1.01" fill="url(#gc)"/><ellipse cx="152.2" cy="168.1" rx="2.16" ry="1.01" fill="url(#gc)"/><ellipse cx="155.1" cy="168.9" rx="2.52" ry="1.30" fill="url(#gc)"/><ellipse cx="157.3" cy="169.3" rx="2.16" ry="1.01" fill="url(#gc)"/><ellipse cx="159.8" cy="168.5" rx="2.52" ry="1.30" fill="url(#gc)"/><ellipse cx="162.4" cy="168.9" rx="2.16" ry="1.01" fill="url(#gc)"/><ellipse cx="164.1" cy="170.2" rx="2.16" ry="1.01" fill="url(#gc)"/><ellipse cx="166.2" cy="170.6" rx="2.52" ry="1.30" fill="url(#gc)"/><ellipse cx="169.1" cy="168.1" rx="2.16" ry="1.01" fill="url(#gc)"/><ellipse cx="169.6" cy="171" rx="2.16" ry="1.01" fill="url(#gc)"/><ellipse cx="173" cy="168.5" rx="2.52" ry="1.30" fill="url(#gc)"/><ellipse cx="175.9" cy="168.9" rx="2.52" ry="1.30" fill="url(#gc)"/><ellipse cx="178.5" cy="171" rx="2.16" ry="1.01" fill="url(#gc)"/><ellipse cx="179.3" cy="171" rx="2.16" ry="1.01" fill="url(#gc)"/><ellipse cx="161.8" cy="169.1" rx="2.19" ry="1.13" fill="url(#gc)"/><ellipse cx="174.2" cy="167.2" rx="1.83" ry="0.86" fill="url(#gc)"/><ellipse cx="155.6" cy="171.0" rx="1.80" ry="0.84" fill="url(#gc)"/><ellipse cx="147.8" cy="171.3" rx="1.45" ry="0.68" fill="url(#gc)"/><ellipse cx="161.8" cy="172.5" rx="2.05" ry="1.06" fill="url(#gc)"/><ellipse cx="155.1" cy="168.9" rx="2.02" ry="1.01" fill="url(#gg)"/><ellipse cx="159.8" cy="168.5" rx="2.02" ry="1.01" fill="url(#gg)"/><ellipse cx="166.2" cy="170.6" rx="2.02" ry="1.01" fill="url(#gg)"/><ellipse cx="173" cy="168.5" rx="2.02" ry="1.01" fill="url(#gg)"/><ellipse cx="175.9" cy="168.9" rx="2.02" ry="1.01" fill="url(#gg)"/><ellipse cx="161.8" cy="169.1" rx="1.75" ry="0.88" fill="url(#gg)"/><ellipse cx="161.8" cy="172.5" rx="1.64" ry="0.82" fill="url(#gg)"/><ellipse cx="155.1" cy="168.9" rx="1.44" ry="0.72" fill="url(#gy)"/><ellipse cx="159.8" cy="168.5" rx="1.44" ry="0.72" fill="url(#gy)"/><ellipse cx="166.2" cy="170.6" rx="1.44" ry="0.72" fill="url(#gy)"/><ellipse cx="173" cy="168.5" rx="1.44" ry="0.72" fill="url(#gy)"/><ellipse cx="175.9" cy="168.9" rx="1.44" ry="0.72" fill="url(#gy)"/><ellipse cx="161.8" cy="169.1" rx="1.25" ry="0.63" fill="url(#gy)"/><ellipse cx="161.8" cy="172.5" rx="1.17" ry="0.59" fill="url(#gy)"/></g>
<polygon points="67.00,166.20 102.60,166.20 104.79,166.41 106.97,166.72 109.16,167.08 111.35,167.47 113.54,167.87 115.72,168.23 117.91,168.54 120.10,168.75 144.40,168.75 144.40,169.25 150.10,169.25 150.10,170.45 144.40,170.45 144.40,170.95 120.10,170.95 117.91,171.16 115.72,171.47 113.54,171.83 111.35,172.22 109.16,172.62 106.97,172.98 104.79,173.29 102.60,173.50 67.00,173.50" fill="#00008a"/>
<polygon points="129.25,159.55 139.20,159.55 133.10,169.85 139.20,180.15 129.25,180.15" fill="#00008a"/>
<text x="63.9" y="157.0" font-family="'Liberation Serif', 'Times New Roman', serif" font-size="8.1" fill="#000" stroke="#000" stroke-width="0.12">Mode 5</text>
<rect x="237.3" y="147.85" width="163.10" height="44.50" fill="#fff" stroke="#b8b8b8" stroke-width="1.6"/>
<text transform="translate(234.30 152.20) scale(0.92 1)" text-anchor="end" font-family="'Liberation Sans', Arial, sans-serif" font-size="4.6" fill="#555">0.02</text>
<line x1="235.90" y1="150.00" x2="237.30" y2="150.00" stroke="#444" stroke-width="0.9"/>
<text transform="translate(234.30 162.25) scale(0.92 1)" text-anchor="end" font-family="'Liberation Sans', Arial, sans-serif" font-size="4.6" fill="#555">0.01</text>
<line x1="235.90" y1="160.05" x2="237.30" y2="160.05" stroke="#444" stroke-width="0.9"/>
<text transform="translate(234.30 172.30) scale(0.92 1)" text-anchor="end" font-family="'Liberation Sans', Arial, sans-serif" font-size="4.6" fill="#555">0.00</text>
<line x1="235.90" y1="170.10" x2="237.30" y2="170.10" stroke="#444" stroke-width="0.9"/>
<text transform="translate(234.30 182.35) scale(0.92 1)" text-anchor="end" font-family="'Liberation Sans', Arial, sans-serif" font-size="4.6" fill="#555">-0.01</text>
<line x1="235.90" y1="180.15" x2="237.30" y2="180.15" stroke="#444" stroke-width="0.9"/>
<text transform="translate(234.30 192.40) scale(0.92 1)" text-anchor="end" font-family="'Liberation Sans', Arial, sans-serif" font-size="4.6" fill="#555">-0.02</text>
<line x1="235.90" y1="190.20" x2="237.30" y2="190.20" stroke="#444" stroke-width="0.9"/>
<text transform="translate(244.95 198.85) scale(0.92 1)" text-anchor="middle" font-family="'Liberation Sans', Arial, sans-serif" font-size="4.6" fill="#555">0.00</text>
<line x1="244.95" y1="192.35" x2="244.95" y2="193.55" stroke="#444" stroke-width="0.9"/>
<text transform="translate(265.15 198.85) scale(0.92 1)" text-anchor="middle" font-family="'Liberation Sans', Arial, sans-serif" font-size="4.6" fill="#555">0.02</text>
<line x1="265.15" y1="192.35" x2="265.15" y2="193.55" stroke="#444" stroke-width="0.9"/>
<text transform="translate(285.34 198.85) scale(0.92 1)" text-anchor="middle" font-family="'Liberation Sans', Arial, sans-serif" font-size="4.6" fill="#555">0.04</text>
<line x1="285.34" y1="192.35" x2="285.34" y2="193.55" stroke="#444" stroke-width="0.9"/>
<text transform="translate(305.53 198.85) scale(0.92 1)" text-anchor="middle" font-family="'Liberation Sans', Arial, sans-serif" font-size="4.6" fill="#555">0.06</text>
<line x1="305.53" y1="192.35" x2="305.53" y2="193.55" stroke="#444" stroke-width="0.9"/>
<text transform="translate(325.72 198.85) scale(0.92 1)" text-anchor="middle" font-family="'Liberation Sans', Arial, sans-serif" font-size="4.6" fill="#555">0.08</text>
<line x1="325.72" y1="192.35" x2="325.72" y2="193.55" stroke="#444" stroke-width="0.9"/>
<text transform="translate(345.92 198.85) scale(0.92 1)" text-anchor="middle" font-family="'Liberation Sans', Arial, sans-serif" font-size="4.6" fill="#555">0.10</text>
<line x1="345.92" y1="192.35" x2="345.92" y2="193.55" stroke="#444" stroke-width="0.9"/>
<text transform="translate(366.11 198.85) scale(0.92 1)" text-anchor="middle" font-family="'Liberation Sans', Arial, sans-serif" font-size="4.6" fill="#555">0.12</text>
<line x1="366.11" y1="192.35" x2="366.11" y2="193.55" stroke="#444" stroke-width="0.9"/>
<text transform="translate(386.30 198.85) scale(0.92 1)" text-anchor="middle" font-family="'Liberation Sans', Arial, sans-serif" font-size="4.6" fill="#555">0.14</text>
<line x1="386.30" y1="192.35" x2="386.30" y2="193.55" stroke="#444" stroke-width="0.9"/>
<rect x="322.2" y="150.0" width="70.70" height="40.20" fill="#00008c"/>
<rect x="322.60" y="150.40" width="69.90" height="39.40" fill="none" stroke="#000070" stroke-width="0.8"/>
<ellipse cx="350" cy="169.5" rx="28" ry="5" fill="url(#gh)" opacity="0.45"/>
<clipPath id="cp6"><rect x="322.2" y="150.0" width="70.70" height="40.20"/></clipPath>
<g clip-path="url(#cp6)"><ellipse cx="338" cy="170" rx="24" ry="4.8" fill="url(#gb)" opacity="0.85"/>
<ellipse cx="362" cy="169.8" rx="16" ry="5.5" fill="url(#gb)" opacity="0.55"/>
<ellipse cx="358" cy="168.5" rx="6" ry="2.2" fill="url(#gb)" opacity="0.7"/>
<ellipse cx="365" cy="171.5" rx="6" ry="2.2" fill="url(#gb)" opacity="0.6"/>
<ellipse cx="373" cy="169" rx="5" ry="2" fill="url(#gb)" opacity="0.5"/>
<ellipse cx="380" cy="171" rx="4" ry="1.8" fill="url(#gb)" opacity="0.4"/>
<ellipse cx="330" cy="168.6" rx="21" ry="2.0" fill="url(#glb)"/>
<ellipse cx="332" cy="168.6" rx="15" ry="1.3" fill="url(#gc)"/>
<ellipse cx="330" cy="171.5" rx="22" ry="2.2" fill="url(#glb)"/>
<ellipse cx="331" cy="171.5" rx="17" ry="1.5" fill="url(#gc)"/>
<ellipse cx="336" cy="171.6" rx="4" ry="0.8" fill="url(#gg)"/>
<rect x="322" y="169.6" width="16" height="0.9" fill="#000080" opacity="0.85"/><ellipse cx="350" cy="170" rx="4.20" ry="2.20" fill="url(#gb)"/><ellipse cx="354.5" cy="170.2" rx="3.78" ry="1.98" fill="url(#gb)"/><ellipse cx="350" cy="170" rx="3.00" ry="1.50" fill="url(#glb)"/><ellipse cx="354.5" cy="170.2" rx="2.70" ry="1.35" fill="url(#glb)"/></g>
<polygon points="245.00,166.60 280.70,166.60 282.89,166.81 285.07,167.12 287.26,167.48 289.45,167.88 291.64,168.27 293.82,168.63 296.01,168.94 298.20,169.15 322.50,169.15 322.50,169.65 325.20,169.65 325.20,170.85 322.50,170.85 322.50,171.35 298.20,171.35 296.01,171.56 293.82,171.87 291.64,172.23 289.45,172.62 287.26,173.02 285.07,173.38 282.89,173.69 280.70,173.90 245.00,173.90" fill="#00008a"/>
<polygon points="307.35,159.95 317.30,159.95 311.20,170.25 317.30,180.55 307.35,180.55" fill="#00008a"/>
<ellipse cx="311.4" cy="168.4" rx="1.7" ry="0.8" fill="url(#glb)"/><ellipse cx="312.6" cy="173.6" rx="1.6" ry="1.3" fill="url(#glb)"/><ellipse cx="311.4" cy="172.0" rx="2.4" ry="1.7" fill="url(#gc)"/><ellipse cx="311.4" cy="172.0" rx="2.0" ry="1.4" fill="url(#gy)"/><ellipse cx="311.4" cy="172.0" rx="1.6" ry="1.15" fill="url(#go)"/><ellipse cx="311.3" cy="172.0" rx="1.1" ry="0.85" fill="url(#gr)"/><ellipse cx="315.4" cy="160.9" rx="0.9" ry="0.7" fill="url(#glb)"/>
<text x="243.0" y="157.0" font-family="'Liberation Serif', 'Times New Roman', serif" font-size="8.1" fill="#000" stroke="#000" stroke-width="0.12">Mode 6</text>
<rect x="134.8" y="201.7" width="163.10" height="44.40" fill="#fff" stroke="#b8b8b8" stroke-width="1.6"/>
<text transform="translate(131.80 206.10) scale(0.92 1)" text-anchor="end" font-family="'Liberation Sans', Arial, sans-serif" font-size="4.6" fill="#555">0.02</text>
<line x1="133.40" y1="203.90" x2="134.80" y2="203.90" stroke="#444" stroke-width="0.9"/>
<text transform="translate(131.80 216.10) scale(0.92 1)" text-anchor="end" font-family="'Liberation Sans', Arial, sans-serif" font-size="4.6" fill="#555">0.01</text>
<line x1="133.40" y1="213.90" x2="134.80" y2="213.90" stroke="#444" stroke-width="0.9"/>
<text transform="translate(131.80 226.10) scale(0.92 1)" text-anchor="end" font-family="'Liberation Sans', Arial, sans-serif" font-size="4.6" fill="#555">0.00</text>
<line x1="133.40" y1="223.90" x2="134.80" y2="223.90" stroke="#444" stroke-width="0.9"/>
<text transform="translate(131.80 236.10) scale(0.92 1)" text-anchor="end" font-family="'Liberation Sans', Arial, sans-serif" font-size="4.6" fill="#555">-0.01</text>
<line x1="133.40" y1="233.90" x2="134.80" y2="233.90" stroke="#444" stroke-width="0.9"/>
<text transform="translate(131.80 246.10) scale(0.92 1)" text-anchor="end" font-family="'Liberation Sans', Arial, sans-serif" font-size="4.6" fill="#555">-0.02</text>
<line x1="133.40" y1="243.90" x2="134.80" y2="243.90" stroke="#444" stroke-width="0.9"/>
<text transform="translate(143.10 252.60) scale(0.92 1)" text-anchor="middle" font-family="'Liberation Sans', Arial, sans-serif" font-size="4.6" fill="#555">0.00</text>
<line x1="143.10" y1="246.10" x2="143.10" y2="247.30" stroke="#444" stroke-width="0.9"/>
<text transform="translate(163.15 252.60) scale(0.92 1)" text-anchor="middle" font-family="'Liberation Sans', Arial, sans-serif" font-size="4.6" fill="#555">0.02</text>
<line x1="163.15" y1="246.10" x2="163.15" y2="247.30" stroke="#444" stroke-width="0.9"/>
<text transform="translate(183.20 252.60) scale(0.92 1)" text-anchor="middle" font-family="'Liberation Sans', Arial, sans-serif" font-size="4.6" fill="#555">0.04</text>
<line x1="183.20" y1="246.10" x2="183.20" y2="247.30" stroke="#444" stroke-width="0.9"/>
<text transform="translate(203.25 252.60) scale(0.92 1)" text-anchor="middle" font-family="'Liberation Sans', Arial, sans-serif" font-size="4.6" fill="#555">0.06</text>
<line x1="203.25" y1="246.10" x2="203.25" y2="247.30" stroke="#444" stroke-width="0.9"/>
<text transform="translate(223.30 252.60) scale(0.92 1)" text-anchor="middle" font-family="'Liberation Sans', Arial, sans-serif" font-size="4.6" fill="#555">0.08</text>
<line x1="223.30" y1="246.10" x2="223.30" y2="247.30" stroke="#444" stroke-width="0.9"/>
<text transform="translate(243.35 252.60) scale(0.92 1)" text-anchor="middle" font-family="'Liberation Sans', Arial, sans-serif" font-size="4.6" fill="#555">0.10</text>
<line x1="243.35" y1="246.10" x2="243.35" y2="247.30" stroke="#444" stroke-width="0.9"/>
<text transform="translate(263.40 252.60) scale(0.92 1)" text-anchor="middle" font-family="'Liberation Sans', Arial, sans-serif" font-size="4.6" fill="#555">0.12</text>
<line x1="263.40" y1="246.10" x2="263.40" y2="247.30" stroke="#444" stroke-width="0.9"/>
<text transform="translate(283.45 252.60) scale(0.92 1)" text-anchor="middle" font-family="'Liberation Sans', Arial, sans-serif" font-size="4.6" fill="#555">0.14</text>
<line x1="283.45" y1="246.10" x2="283.45" y2="247.30" stroke="#444" stroke-width="0.9"/>
<rect x="219.8" y="203.9" width="70.20" height="40.00" fill="#00008c"/>
<rect x="220.20" y="204.30" width="69.40" height="39.20" fill="none" stroke="#000070" stroke-width="0.8"/>
<ellipse cx="250" cy="224" rx="29" ry="5.5" fill="url(#gh)" opacity="0.45"/>
<clipPath id="cp7"><rect x="219.8" y="203.9" width="70.20" height="40.00"/></clipPath>
<g clip-path="url(#cp7)"><ellipse cx="223.6" cy="222.5" rx="2.81" ry="1.48" fill="url(#gb)"/><ellipse cx="227" cy="222.5" rx="3.74" ry="1.95" fill="url(#gb)"/><ellipse cx="229.6" cy="222.1" rx="3.74" ry="1.95" fill="url(#gb)"/><ellipse cx="233.4" cy="222.5" rx="3.74" ry="1.95" fill="url(#gb)"/><ellipse cx="232.1" cy="225.9" rx="3.90" ry="2.11" fill="url(#gb)"/><ellipse cx="226.2" cy="225.9" rx="2.81" ry="1.48" fill="url(#gb)"/><ellipse cx="236.8" cy="222.5" rx="3.74" ry="1.95" fill="url(#gb)"/><ellipse cx="244" cy="222.5" rx="3.74" ry="1.95" fill="url(#gb)"/><ellipse cx="246.5" cy="222.3" rx="3.74" ry="1.95" fill="url(#gb)"/><ellipse cx="248.2" cy="224.2" rx="3.74" ry="1.95" fill="url(#gb)"/><ellipse cx="251.6" cy="224.6" rx="3.74" ry="1.95" fill="url(#gb)"/><ellipse cx="241.4" cy="219.1" rx="2.81" ry="1.48" fill="url(#gb)"/><ellipse cx="245.7" cy="219.1" rx="2.81" ry="1.48" fill="url(#gb)"/><ellipse cx="244" cy="226.7" rx="2.81" ry="1.48" fill="url(#gb)"/><ellipse cx="248.7" cy="226.7" rx="3.74" ry="1.95" fill="url(#gb)"/><ellipse cx="251.6" cy="227.6" rx="2.81" ry="1.48" fill="url(#gb)"/><ellipse cx="253.3" cy="224.6" rx="3.74" ry="1.95" fill="url(#gb)"/><ellipse cx="257.5" cy="225" rx="3.74" ry="1.95" fill="url(#gb)"/><ellipse cx="255.4" cy="221.2" rx="3.28" ry="1.72" fill="url(#gb)"/><ellipse cx="258.8" cy="220.8" rx="2.81" ry="1.48" fill="url(#gb)"/><ellipse cx="262.2" cy="223.8" rx="3.28" ry="1.72" fill="url(#gb)"/><ellipse cx="266" cy="225" rx="2.81" ry="1.48" fill="url(#gb)"/><ellipse cx="263.9" cy="219.9" rx="2.81" ry="1.48" fill="url(#gb)"/><ellipse cx="271.9" cy="222.9" rx="2.81" ry="1.48" fill="url(#gb)"/><ellipse cx="277" cy="222.5" rx="2.81" ry="1.48" fill="url(#gb)"/><ellipse cx="274.1" cy="226.7" rx="2.81" ry="1.48" fill="url(#gb)"/><ellipse cx="283.4" cy="226.7" rx="2.81" ry="1.48" fill="url(#gb)"/><ellipse cx="286.8" cy="219.9" rx="2.81" ry="1.48" fill="url(#gb)"/><ellipse cx="260.5" cy="228.8" rx="2.81" ry="1.48" fill="url(#gb)"/><ellipse cx="286.6" cy="228.0" rx="2.13" ry="1.13" fill="url(#gb)"/><ellipse cx="248.9" cy="225.8" rx="2.02" ry="1.05" fill="url(#gb)"/><ellipse cx="287.7" cy="222.6" rx="1.89" ry="1.00" fill="url(#gb)"/><ellipse cx="224.3" cy="224.5" rx="2.00" ry="1.08" fill="url(#gb)"/><ellipse cx="233.2" cy="224.2" rx="2.75" ry="1.43" fill="url(#gb)"/><ellipse cx="281.3" cy="226.2" rx="2.14" ry="1.13" fill="url(#gb)"/><ellipse cx="260.0" cy="220.9" rx="1.50" ry="0.79" fill="url(#gb)"/><ellipse cx="256.3" cy="218.2" rx="1.53" ry="0.81" fill="url(#gb)"/><ellipse cx="228.1" cy="225.2" rx="2.30" ry="1.20" fill="url(#gb)"/><ellipse cx="223.9" cy="226.2" rx="1.81" ry="0.95" fill="url(#gb)"/><ellipse cx="252.1" cy="224.8" rx="1.49" ry="0.79" fill="url(#gb)"/><ellipse cx="261.6" cy="225.4" rx="1.83" ry="0.96" fill="url(#gb)"/><ellipse cx="250.3" cy="218.8" rx="1.76" ry="0.92" fill="url(#gb)"/><ellipse cx="285.3" cy="222.7" rx="2.04" ry="1.07" fill="url(#gb)"/><ellipse cx="251.9" cy="229.7" rx="1.93" ry="1.02" fill="url(#gb)"/><ellipse cx="278.0" cy="222.5" rx="2.10" ry="1.11" fill="url(#gb)"/><ellipse cx="256.9" cy="223.4" rx="1.75" ry="0.92" fill="url(#gb)"/><ellipse cx="269.8" cy="223.0" rx="1.96" ry="1.03" fill="url(#gb)"/><ellipse cx="226.6" cy="226.1" rx="1.87" ry="0.99" fill="url(#gb)"/><ellipse cx="255.0" cy="225.0" rx="1.76" ry="0.92" fill="url(#gb)"/><ellipse cx="252.2" cy="227.9" rx="1.76" ry="0.92" fill="url(#gb)"/><ellipse cx="267.4" cy="225.1" rx="1.92" ry="1.00" fill="url(#gb)"/><ellipse cx="235.7" cy="223.9" rx="1.59" ry="0.84" fill="url(#gb)"/><ellipse cx="271.9" cy="229.5" rx="2.40" ry="1.26" fill="url(#gb)"/><ellipse cx="234.7" cy="221.8" rx="2.03" ry="1.06" fill="url(#gb)"/><ellipse cx="248.8" cy="223.1" rx="1.56" ry="0.82" fill="url(#gb)"/><ellipse cx="268.4" cy="223.1" rx="1.86" ry="0.97" fill="url(#gb)"/><ellipse cx="274.5" cy="225.6" rx="1.83" ry="0.96" fill="url(#gb)"/><ellipse cx="264.8" cy="218.9" rx="1.86" ry="0.98" fill="url(#gb)"/><ellipse cx="265.3" cy="221.2" rx="2.12" ry="1.12" fill="url(#gb)"/><ellipse cx="229.7" cy="218.7" rx="2.10" ry="1.11" fill="url(#gb)"/><ellipse cx="262.2" cy="226.4" rx="2.00" ry="1.06" fill="url(#gb)"/><ellipse cx="239.4" cy="218.5" rx="1.48" ry="0.78" fill="url(#gb)"/><ellipse cx="244.6" cy="223.3" rx="2.04" ry="1.08" fill="url(#gb)"/><ellipse cx="225.7" cy="221.0" rx="2.41" ry="1.25" fill="url(#gb)"/><ellipse cx="227" cy="222.5" rx="3.12" ry="1.56" fill="url(#glb)"/><ellipse cx="229.6" cy="222.1" rx="3.12" ry="1.56" fill="url(#glb)"/><ellipse cx="233.4" cy="222.5" rx="3.12" ry="1.56" fill="url(#glb)"/><ellipse cx="232.1" cy="225.9" rx="3.28" ry="1.72" fill="url(#glb)"/><ellipse cx="236.8" cy="222.5" rx="3.12" ry="1.56" fill="url(#glb)"/><ellipse cx="244" cy="222.5" rx="3.12" ry="1.56" fill="url(#glb)"/><ellipse cx="246.5" cy="222.3" rx="3.12" ry="1.56" fill="url(#glb)"/><ellipse cx="248.2" cy="224.2" rx="3.12" ry="1.56" fill="url(#glb)"/><ellipse cx="251.6" cy="224.6" rx="3.12" ry="1.56" fill="url(#glb)"/><ellipse cx="248.7" cy="226.7" rx="3.12" ry="1.56" fill="url(#glb)"/><ellipse cx="253.3" cy="224.6" rx="3.12" ry="1.56" fill="url(#glb)"/><ellipse cx="257.5" cy="225" rx="3.12" ry="1.56" fill="url(#glb)"/><ellipse cx="255.4" cy="221.2" rx="2.34" ry="1.17" fill="url(#glb)"/><ellipse cx="262.2" cy="223.8" rx="2.34" ry="1.17" fill="url(#glb)"/><ellipse cx="248.9" cy="225.8" rx="1.68" ry="0.84" fill="url(#glb)"/><ellipse cx="224.3" cy="224.5" rx="1.68" ry="0.88" fill="url(#glb)"/><ellipse cx="233.2" cy="224.2" rx="2.29" ry="1.15" fill="url(#glb)"/><ellipse cx="228.1" cy="225.2" rx="1.92" ry="0.96" fill="url(#glb)"/><ellipse cx="250.3" cy="218.8" rx="1.25" ry="0.63" fill="url(#glb)"/><ellipse cx="256.9" cy="223.4" rx="1.25" ry="0.63" fill="url(#glb)"/><ellipse cx="269.8" cy="223.0" rx="1.40" ry="0.70" fill="url(#glb)"/><ellipse cx="255.0" cy="225.0" rx="1.25" ry="0.63" fill="url(#glb)"/><ellipse cx="252.2" cy="227.9" rx="1.26" ry="0.63" fill="url(#glb)"/><ellipse cx="267.4" cy="225.1" rx="1.37" ry="0.68" fill="url(#glb)"/><ellipse cx="271.9" cy="229.5" rx="1.71" ry="0.86" fill="url(#glb)"/><ellipse cx="234.7" cy="221.8" rx="1.69" ry="0.84" fill="url(#glb)"/><ellipse cx="268.4" cy="223.1" rx="1.33" ry="0.66" fill="url(#glb)"/><ellipse cx="264.8" cy="218.9" rx="1.33" ry="0.67" fill="url(#glb)"/><ellipse cx="225.7" cy="221.0" rx="2.01" ry="1.00" fill="url(#glb)"/><ellipse cx="227" cy="222.5" rx="2.34" ry="1.09" fill="url(#gc)"/><ellipse cx="229.6" cy="222.1" rx="2.34" ry="1.09" fill="url(#gc)"/><ellipse cx="233.4" cy="222.5" rx="2.34" ry="1.09" fill="url(#gc)"/><ellipse cx="232.1" cy="225.9" rx="2.73" ry="1.40" fill="url(#gc)"/><ellipse cx="236.8" cy="222.5" rx="2.34" ry="1.09" fill="url(#gc)"/><ellipse cx="244" cy="222.5" rx="2.34" ry="1.09" fill="url(#gc)"/><ellipse cx="246.5" cy="222.3" rx="2.34" ry="1.09" fill="url(#gc)"/><ellipse cx="248.2" cy="224.2" rx="2.34" ry="1.09" fill="url(#gc)"/><ellipse cx="251.6" cy="224.6" rx="2.34" ry="1.09" fill="url(#gc)"/><ellipse cx="248.7" cy="226.7" rx="2.34" ry="1.09" fill="url(#gc)"/><ellipse cx="253.3" cy="224.6" rx="2.34" ry="1.09" fill="url(#gc)"/><ellipse cx="257.5" cy="225" rx="2.34" ry="1.09" fill="url(#gc)"/><ellipse cx="248.9" cy="225.8" rx="1.26" ry="0.59" fill="url(#gc)"/><ellipse cx="224.3" cy="224.5" rx="1.40" ry="0.72" fill="url(#gc)"/><ellipse cx="233.2" cy="224.2" rx="1.72" ry="0.80" fill="url(#gc)"/><ellipse cx="228.1" cy="225.2" rx="1.44" ry="0.67" fill="url(#gc)"/><ellipse cx="234.7" cy="221.8" rx="1.27" ry="0.59" fill="url(#gc)"/><ellipse cx="225.7" cy="221.0" rx="1.50" ry="0.70" fill="url(#gc)"/><ellipse cx="232.1" cy="225.9" rx="2.18" ry="1.09" fill="url(#gg)"/><ellipse cx="224.3" cy="224.5" rx="1.12" ry="0.56" fill="url(#gg)"/><ellipse cx="232.1" cy="225.9" rx="1.56" ry="0.78" fill="url(#gy)"/><ellipse cx="224.3" cy="224.5" rx="0.80" ry="0.40" fill="url(#gy)"/><ellipse cx="239.9" cy="223.8" rx="5.2" ry="4.2" fill="url(#gb)"/>
<ellipse cx="239.9" cy="223.8" rx="4.2" ry="3.5" fill="url(#glb)"/>
<ellipse cx="239.9" cy="223.8" rx="3.5" ry="2.9" fill="url(#gc)"/>
<ellipse cx="239.9" cy="223.8" rx="2.6" ry="2.2" fill="url(#gy)"/>
<ellipse cx="239.9" cy="223.8" rx="1.8" ry="1.5" fill="url(#go)"/>
<ellipse cx="239.9" cy="223.8" rx="1.0" ry="0.9" fill="url(#gr)" opacity="0.8"/></g>
<polygon points="142.50,220.35 178.30,220.35 180.49,220.56 182.68,220.87 184.86,221.23 187.05,221.62 189.24,222.02 191.43,222.38 193.61,222.69 195.80,222.90 220.10,222.90 220.10,223.40 223.80,223.40 223.80,224.60 220.10,224.60 220.10,225.10 195.80,225.10 193.61,225.31 191.43,225.62 189.24,225.98 187.05,226.38 184.86,226.77 182.68,227.13 180.49,227.44 178.30,227.65 142.50,227.65" fill="#00008a"/>
<polygon points="204.95,213.70 214.90,213.70 208.80,224.00 214.90,234.30 204.95,234.30" fill="#00008a"/>
<text x="136.9" y="207.7" font-family="'Liberation Serif', 'Times New Roman', serif" font-size="8.1" fill="#000" stroke="#000" stroke-width="0.12">Mode 7</text>
</svg>
</body></html>
